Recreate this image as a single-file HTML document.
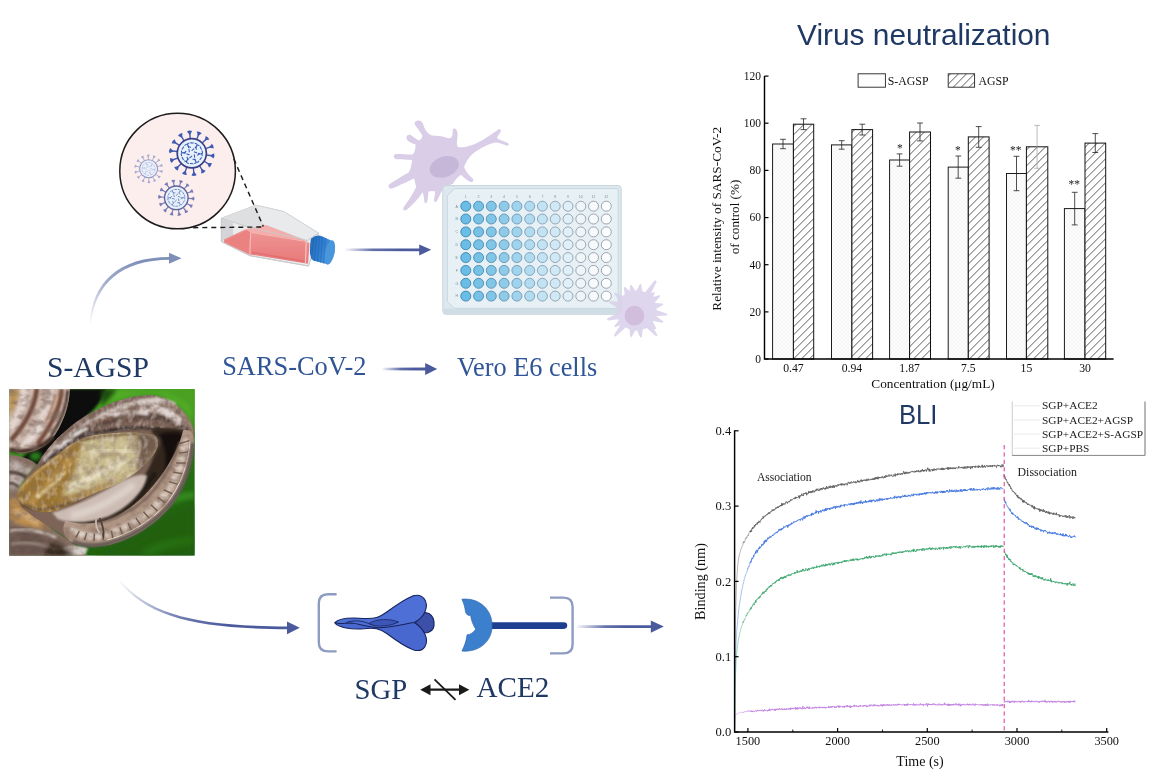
<!DOCTYPE html>
<html lang="en"><head><meta charset="utf-8"><title>Graphical abstract</title>
<style>
html,body{margin:0;padding:0;background:#fff;}
body{width:1171px;height:774px;overflow:hidden;font-family:"Liberation Serif",serif;}
svg{display:block;}
</style></head><body>
<svg width="1171" height="774" viewBox="0 0 1171 774">
<rect width="1171" height="774" fill="#ffffff"/>
<defs>
<clipPath id="phc"><rect x="0" y="0" width="862" height="774"/></clipPath>
<filter id="b2" x="-20%" y="-20%" width="140%" height="140%"><feGaussianBlur stdDeviation="2.5"/></filter>
<filter id="b4" x="-20%" y="-20%" width="140%" height="140%"><feGaussianBlur stdDeviation="5"/></filter>
<filter id="b8" x="-20%" y="-20%" width="140%" height="140%"><feGaussianBlur stdDeviation="9"/></filter>
<filter id="b14" x="-30%" y="-30%" width="160%" height="160%"><feGaussianBlur stdDeviation="16"/></filter>
<filter id="tex" x="0" y="0" width="100%" height="100%">
<feTurbulence type="fractalNoise" baseFrequency="0.02 0.028" numOctaves="3" seed="4" result="n"/>
<feColorMatrix in="n" type="matrix" values="0 0 0 0 0.20  0 0 0 0 0.13  0 0 0 0 0.10  2.8 0 0 0 -1.15"/>
<feComposite in2="SourceGraphic" operator="in"/>
</filter>
<filter id="texl" x="0" y="0" width="100%" height="100%">
<feTurbulence type="fractalNoise" baseFrequency="0.04 0.028" numOctaves="2" seed="19" result="n"/>
<feColorMatrix in="n" type="matrix" values="0 0 0 0 0.96  0 0 0 0 0.91  0 0 0 0 0.89  0 3.4 0 0 -1.55"/>
<feComposite in2="SourceGraphic" operator="in"/>
</filter>
<linearGradient id="gbg" x1="0.3" y1="0" x2="0.8" y2="1"><stop offset="0" stop-color="#46a024"/><stop offset="0.35" stop-color="#30801a"/><stop offset="1" stop-color="#1d5a0f"/></linearGradient>
<linearGradient id="gflesh" x1="0" y1="0.4" x2="1" y2="0"><stop offset="0" stop-color="#9c7430"/><stop offset="0.42" stop-color="#b39458"/><stop offset="0.6" stop-color="#cbbd8e"/><stop offset="0.88" stop-color="#c6b994"/><stop offset="1" stop-color="#846a54"/></linearGradient>
</defs>
<svg x="9.1" y="388.9" width="185.7" height="166.8" viewBox="0 0 862 774" preserveAspectRatio="none">
<g clip-path="url(#phc)">
<rect x="0" y="0" width="862" height="774" fill="url(#gbg)"/>
<path d="M430 0 H862 V210 C840 130 780 60 690 32 C600 20 500 50 410 100 Z" fill="#52ae26" filter="url(#b14)"/>
<path d="M740 0 H862 V120 C830 70 790 40 740 24 Z" fill="#4aa024" filter="url(#b8)"/>
<path d="M838 180 H862 V480 C860 380 856 280 838 180 Z" fill="#2a6c17" filter="url(#b8)"/>
<path d="M700 520 C750 492 810 478 862 476 V508 C806 514 754 530 706 556 Z" fill="#3b9222" opacity="0.8" filter="url(#b8)"/>
<path d="M360 774 C480 740 620 690 730 580 L862 540 V774 Z" fill="#20600f" filter="url(#b14)"/>
<path d="M640 740 C700 706 770 690 862 686 V716 C780 722 716 740 660 774 H600 Z" fill="#2c7b18" opacity="0.7" filter="url(#b14)"/>
<path d="M200 0 H452 C430 70 360 130 290 186 C240 230 190 290 150 360 L60 320 C150 250 200 150 200 0 Z" fill="#0b0f08" filter="url(#b4)"/>
<path d="M430 0 H500 C476 36 452 62 424 84 Z" fill="#1c4c11" filter="url(#b8)"/>
<ellipse cx="122" cy="312" rx="28" ry="22" fill="#2b7e1c" filter="url(#b8)"/>
<path d="M0 0 H282 C280 70 258 140 214 212 C180 262 130 296 50 300 L0 284 Z" fill="#cdb8ae" filter="url(#b2)"/>
<path d="M0 0 H46 C44 40 26 90 0 130 Z" fill="#b8904e" filter="url(#b8)"/>
<g filter="url(#b4)" fill="none" stroke-linecap="round">
<path d="M70 10 C66 70 44 130 10 178" stroke="#e2d4cd" stroke-width="32"/>
<path d="M128 6 C118 80 78 160 14 232" stroke="#70483a" stroke-width="22"/>
<path d="M188 4 C186 76 150 160 84 250" stroke="#e0d3cd" stroke-width="34"/>
<path d="M244 10 C236 90 196 170 136 250" stroke="#744a38" stroke-width="20"/>
<path d="M10 282 C70 300 140 282 200 226" stroke="#452e26" stroke-width="20"/>
<path d="M272 10 C268 80 240 150 200 210" stroke="#37251e" stroke-width="12"/>
<path d="M214 30 C206 70 190 110 170 150" stroke="#a87656" stroke-width="10"/>
<path d="M150 180 C130 210 100 240 60 262" stroke="#e8dcd6" stroke-width="14"/>
</g>
<path d="M0 306 C50 310 104 326 128 352 C84 392 48 432 40 480 C60 560 180 640 280 704 C310 730 340 754 360 774 H0 Z" fill="#876f63" filter="url(#b2)"/>
<path d="M0 330 C46 336 90 354 108 376 C76 404 52 432 42 470 L0 470 Z" fill="#c3b9b6" filter="url(#b8)"/>
<path d="M0 386 C36 388 68 400 86 414" stroke="#45352f" stroke-width="16" fill="none" filter="url(#b4)"/>
<path d="M0 436 C20 438 36 446 46 458" stroke="#4e3e38" stroke-width="12" fill="none" filter="url(#b4)"/>
<path d="M0 506 C30 506 54 524 84 556 C124 596 168 626 196 648 C130 652 60 640 0 606 Z" fill="#bf8e4e" filter="url(#b8)"/>
<path d="M20 566 C56 576 100 598 136 626" stroke="#e2c8a6" stroke-width="18" fill="none" opacity="0.75" filter="url(#b8)"/>
<path d="M0 636 C70 648 160 668 240 706 C262 724 282 748 296 774 H0 Z" fill="#66534b" filter="url(#b8)"/>
<path d="M4 660 C70 646 150 660 218 690" stroke="#cfc6c2" stroke-width="12" fill="none" filter="url(#b4)"/>
<path d="M10 720 C80 706 150 718 210 744" stroke="#93837c" stroke-width="16" fill="none" filter="url(#b4)"/>
<path d="M250 738 C290 724 330 724 366 738 L352 774 H262 Z" fill="#d4cdc8" filter="url(#b4)"/>
<path d="M190 716 C240 728 280 748 306 774 H160 Z" fill="#33271f" filter="url(#b8)"/>
<path d="M132 350 C180 262 260 186 350 128 C440 74 540 32 650 28 C740 30 830 96 856 196 C862 300 836 420 760 530 C690 620 590 690 470 722 C400 736 330 734 282 706 C230 660 130 612 62 552 C24 510 40 440 132 350 Z" fill="#7e6458"/>
<g filter="url(#b4)" fill="none" stroke-linecap="round">
<path d="M170 330 C250 232 370 150 510 90 C590 56 680 40 760 72" stroke="#d0c4be" stroke-width="26"/>
<path d="M300 214 C400 158 520 126 640 128 C710 130 770 150 820 190" stroke="#5a463f" stroke-width="30"/>
<path d="M156 356 C220 286 300 232 380 204" stroke="#43343a" stroke-width="20"/>
<path d="M620 92 C680 82 750 104 790 150" stroke="#ddd0ce" stroke-width="34"/>
<path d="M460 132 C510 112 580 104 640 114" stroke="#d9cdca" stroke-width="18"/>
<path d="M740 70 C800 96 836 146 850 200" stroke="#9c8474" stroke-width="18"/>
<path d="M236 268 C276 232 316 204 360 182" stroke="#e0d8d3" stroke-width="14"/>
<path d="M400 204 C500 182 600 176 700 186" stroke="#2f2625" stroke-width="14"/>
<path d="M360 172 C400 150 440 138 480 132" stroke="#7a5a4c" stroke-width="18"/>
<path d="M520 150 C580 140 640 146 690 160" stroke="#6a4e44" stroke-width="16"/>
</g>
<path d="M132 350 C180 262 260 186 350 128 C440 74 540 32 650 28 C740 30 830 96 856 196 C862 300 836 420 760 530 C690 620 590 690 470 722 C400 736 330 734 282 706 C230 660 130 612 62 552 C24 510 40 440 132 350 Z" fill="#000" filter="url(#tex)" opacity="0.85"/>
<path d="M0 0 H282 C280 70 258 140 214 212 C180 262 130 296 50 300 L0 284 Z M0 306 C50 310 104 326 128 352 C84 392 48 432 40 480 C60 560 180 640 280 704 C310 730 340 754 360 774 H0 Z" fill="#000" filter="url(#tex)" opacity="0.6"/>
<path d="M132 350 C180 262 260 186 350 128 C440 74 540 32 650 28 C740 30 830 96 856 196 L800 190 C720 176 600 180 500 198 C420 208 340 226 300 250 C240 286 190 326 152 366 Z" fill="#fff" filter="url(#texl)" opacity="0.32"/>
<path d="M660 190 C720 176 780 180 812 192 C800 290 740 400 660 480 C600 546 500 604 400 628 C350 634 300 622 262 608 C360 600 480 546 580 460 C650 390 700 290 660 190 Z" fill="#30251f" filter="url(#b4)"/>
<path d="M690 214 C740 198 780 200 804 210 C790 280 760 340 720 392 C736 326 728 262 690 214 Z" fill="#120e0d" filter="url(#b4)"/>
<path d="M676 392 C640 456 590 508 530 548" stroke="#1b1513" stroke-width="16" fill="none" filter="url(#b4)"/>
<path d="M808 192 C836 186 858 196 858 240 C852 350 820 450 756 536 C690 620 590 690 470 722 C400 736 330 734 282 706 C250 680 244 646 262 612 C320 632 400 630 480 600 C570 560 650 480 716 388 C760 322 794 254 808 192 Z" fill="#b09685" filter="url(#b2)"/>
<g filter="url(#b4)" fill="none" stroke-linecap="round">
<path d="M822 236 C812 340 770 440 700 524 C628 600 530 654 420 680" stroke="#cdbbae" stroke-width="26"/>
<path d="M790 250 C766 340 710 430 640 506 C572 566 490 606 400 626" stroke="#6a564c" stroke-width="9"/>
<path d="M290 650 C324 676 378 688 432 680" stroke="#d4c8bf" stroke-width="22"/>
</g>
<g stroke="#e6d8ce" stroke-width="15" stroke-linecap="round" opacity="0.75" filter="url(#b4)">
<path d="M821 269 L797 274"/>
<path d="M813 319 L789 321"/>
<path d="M799 368 L775 366"/>
<path d="M781 415 L758 410"/>
<path d="M757 460 L736 451"/>
<path d="M729 501 L709 489"/>
<path d="M696 539 L679 525"/>
<path d="M661 574 L645 558"/>
<path d="M623 606 L610 589"/>
<path d="M583 633 L573 615"/>
<path d="M543 656 L535 637"/>
<path d="M501 674 L496 655"/>
<path d="M458 687 L455 668"/>
<path d="M416 694 L415 675"/>
<path d="M374 694 L377 675"/>
<path d="M334 686 L341 669"/>
</g>
<g stroke="#5a463c" stroke-width="6.5" opacity="0.8" filter="url(#b2)">
<path d="M836 240 L792 254"/>
<path d="M832 292 L788 298"/>
<path d="M820 344 L776 344"/>
<path d="M804 394 L762 386"/>
<path d="M782 442 L742 430"/>
<path d="M756 486 L718 468"/>
<path d="M724 528 L690 504"/>
<path d="M688 566 L658 538"/>
<path d="M650 600 L624 570"/>
<path d="M610 630 L588 598"/>
<path d="M568 656 L552 622"/>
<path d="M526 676 L514 642"/>
<path d="M482 692 L474 658"/>
<path d="M438 702 L434 668"/>
<path d="M394 706 L396 672"/>
<path d="M350 702 L360 668"/>
<path d="M310 690 L326 660"/>
</g>
<path d="M852 250 C846 356 808 462 738 548 C664 628 566 690 456 718 C400 730 340 728 296 708" stroke="#605753" stroke-width="18" fill="none" filter="url(#b4)"/>
<path d="M840 246 C832 350 796 452 728 536 C656 614 560 674 452 702" stroke="#f4ece6" stroke-width="4.5" fill="none" opacity="0.85" filter="url(#b2)"/>
<path d="M808 192 C836 186 858 196 858 240 C852 350 820 450 756 536 C690 620 590 690 470 722 C400 736 330 734 282 706 C250 680 244 646 262 612 C320 632 400 630 480 600 C570 560 650 480 716 388 C760 322 794 254 808 192 Z" fill="#000" filter="url(#tex)" opacity="0.5"/>
<path d="M200 574 C290 552 400 500 520 430 C570 404 620 392 640 402 C632 470 560 548 460 592 C380 622 290 628 226 604 Z" fill="#cbbbb2" filter="url(#b4)"/>
<path d="M300 586 C390 566 480 520 570 452" stroke="#ddd2cb" stroke-width="34" fill="none" stroke-linecap="round" filter="url(#b8)"/>
<path d="M420 600 C432 626 442 660 438 690" stroke="#4e3e38" stroke-width="8" fill="none" filter="url(#b2)"/>
<path d="M404 604 C400 630 410 654 420 668" stroke="#c8bcb4" stroke-width="8" fill="none" filter="url(#b2)"/>
<path d="M40 476 C70 424 140 368 230 306 C270 262 320 232 390 216 C470 204 580 194 670 212 C706 232 696 284 650 330 C600 390 520 440 420 474 C340 506 270 548 200 570 C140 580 80 556 48 520 C36 506 34 490 40 476 Z" fill="url(#gflesh)" filter="url(#b2)"/>
<path d="M46 480 C78 426 150 370 238 308 C280 268 312 250 340 246 C332 330 286 430 200 540 C160 566 100 556 70 530 C52 512 44 496 46 480 Z" fill="#9c7430" filter="url(#b8)"/>
<path d="M100 520 C150 486 220 410 282 326" stroke="#b89048" stroke-width="34" fill="none" stroke-linecap="round" filter="url(#b8)"/>
<path d="M130 500 C176 470 222 430 258 388" stroke="#e6d4a0" stroke-width="14" fill="none" stroke-linecap="round" opacity="0.85" filter="url(#b4)"/>
<path d="M340 240 C430 220 540 210 630 224 C650 256 620 304 576 346 C516 398 430 442 340 476 C296 492 262 498 244 488 C294 424 328 330 340 240 Z" fill="#c9bc8e" filter="url(#b8)"/>
<path d="M392 292 C450 278 530 282 590 294" stroke="#ddd3ae" stroke-width="30" fill="none" stroke-linecap="round" filter="url(#b8)"/>
<path d="M300 452 C376 418 460 376 540 330" stroke="#ebe3c8" stroke-width="24" fill="none" stroke-linecap="round" filter="url(#b8)"/>
<path d="M590 206 C640 206 680 216 700 232 C694 284 650 340 596 386 C586 350 610 290 590 206 Z" fill="#705a4a" filter="url(#b8)"/>
<path d="M600 240 C620 270 600 320 570 360" stroke="#d6ccc0" stroke-width="10" fill="none" opacity="0.7" filter="url(#b4)"/>
<path d="M330 240 C410 220 500 210 600 208" stroke="#6a4c2a" stroke-width="10" fill="none" filter="url(#b4)"/>
<path d="M60 536 C130 580 230 552 330 512" stroke="#5c401d" stroke-width="10" fill="none" filter="url(#b4)"/>
<path d="M50 468 C90 414 156 362 232 308" stroke="#dcbc7c" stroke-width="8" fill="none" opacity="0.85" filter="url(#b4)"/>
<path d="M40 476 C70 424 140 368 230 306 C270 262 320 232 390 216 C470 204 580 194 670 212 C706 232 696 284 650 330 C600 390 520 440 420 474 C340 506 270 548 200 570 C140 580 80 556 48 520 C36 506 34 490 40 476 Z" fill="#3a2408" filter="url(#tex)" opacity="0.45"/>
<path d="M40 476 C70 424 140 368 230 306 C270 262 320 232 390 216 C470 204 580 194 670 212 C706 232 696 284 650 330 C600 390 520 440 420 474 C340 506 270 548 200 570 C140 580 80 556 48 520 C36 506 34 490 40 476 Z" fill="#fff" filter="url(#texl)" opacity="0.3"/>
</g></svg>
<g transform="translate(380 110) scale(0.14213)">
<path d="M262 76 C282 70 300 82 305 104 C312 134 330 160 360 178 C395 184 430 180 468 196 C492 204 506 196 510 172 C512 150 508 136 520 130 C536 126 548 150 546 178 C544 212 536 236 548 262 C600 266 660 246 720 212 C770 184 806 158 832 138 C846 130 856 142 848 154 C838 170 826 186 822 198 C850 212 880 222 900 232 C912 240 904 254 890 250 C862 240 836 228 812 228 C770 236 716 262 668 296 C628 326 606 362 592 402 C606 436 630 462 652 482 C664 494 654 510 638 506 C612 498 594 476 570 456 C548 470 530 492 512 520 L450 540 L400 640 C392 652 378 648 380 632 C384 610 388 590 388 572 C372 572 354 572 342 574 C338 600 338 626 332 648 C328 660 312 658 312 644 C310 620 308 598 300 578 C286 600 250 650 186 704 C172 714 156 700 166 684 C200 640 232 590 254 542 C250 520 244 500 240 482 C200 500 140 530 86 552 C66 558 52 538 66 522 C110 494 160 462 202 440 C218 414 224 380 226 352 C196 346 150 350 116 346 C94 342 90 316 110 310 C150 306 196 318 232 312 C246 290 252 262 250 242 C230 234 206 226 192 212 C180 196 188 172 208 172 C226 176 240 200 276 214 C292 206 300 192 298 178 C282 150 258 124 244 100 C240 88 248 78 262 76 Z" fill="#d9cde8"/>
<ellipse cx="452" cy="400" rx="106" ry="72" transform="rotate(-20 452 400)" fill="#c6b7d9"/>
</g>
<rect x="442.8" y="185.5" width="178.4" height="128.8" rx="3" fill="#dde8ee" stroke="#c8d6de" stroke-width="1"/>
<rect x="443.6" y="308.6" width="176.8" height="5.2" rx="2" fill="#cfdde5"/>
<path d="M454.5 188.6 H616.4 Q618.2 188.6 618.2 190.4 V306.6 Q618.2 308.4 616.4 308.4 H454.5 L447.4 301.6 V195.6 Z" fill="#e7f0f5" stroke="#c5d5de" stroke-width="0.9"/>
<circle cx="465.8" cy="206.2" r="5" fill="#6abde6" stroke="#3a7fa8" stroke-width="0.85"/>
<circle cx="465.8" cy="219.0" r="5" fill="#6abde6" stroke="#3a7fa8" stroke-width="0.85"/>
<circle cx="465.8" cy="231.9" r="5" fill="#6abde6" stroke="#3a7fa8" stroke-width="0.85"/>
<circle cx="465.8" cy="244.7" r="5" fill="#6abde6" stroke="#3a7fa8" stroke-width="0.85"/>
<circle cx="465.8" cy="257.6" r="5" fill="#6abde6" stroke="#3a7fa8" stroke-width="0.85"/>
<circle cx="465.8" cy="270.4" r="5" fill="#6abde6" stroke="#3a7fa8" stroke-width="0.85"/>
<circle cx="465.8" cy="283.3" r="5" fill="#6abde6" stroke="#3a7fa8" stroke-width="0.85"/>
<circle cx="465.8" cy="296.1" r="5" fill="#6abde6" stroke="#3a7fa8" stroke-width="0.85"/>
<text x="465.8" y="198.2" text-anchor="middle" font-size="3.6" font-family="Liberation Sans, sans-serif" fill="#7890a0">1</text>
<circle cx="478.6" cy="206.2" r="5" fill="#76c2e7" stroke="#4585ac" stroke-width="0.85"/>
<circle cx="478.6" cy="219.0" r="5" fill="#76c2e7" stroke="#4585ac" stroke-width="0.85"/>
<circle cx="478.6" cy="231.9" r="5" fill="#76c2e7" stroke="#4585ac" stroke-width="0.85"/>
<circle cx="478.6" cy="244.7" r="5" fill="#76c2e7" stroke="#4585ac" stroke-width="0.85"/>
<circle cx="478.6" cy="257.6" r="5" fill="#76c2e7" stroke="#4585ac" stroke-width="0.85"/>
<circle cx="478.6" cy="270.4" r="5" fill="#76c2e7" stroke="#4585ac" stroke-width="0.85"/>
<circle cx="478.6" cy="283.3" r="5" fill="#76c2e7" stroke="#4585ac" stroke-width="0.85"/>
<circle cx="478.6" cy="296.1" r="5" fill="#76c2e7" stroke="#4585ac" stroke-width="0.85"/>
<text x="478.6" y="198.2" text-anchor="middle" font-size="3.6" font-family="Liberation Sans, sans-serif" fill="#7890a0">2</text>
<circle cx="491.3" cy="206.2" r="5" fill="#81c5e7" stroke="#528bae" stroke-width="0.85"/>
<circle cx="491.3" cy="219.0" r="5" fill="#81c5e7" stroke="#528bae" stroke-width="0.85"/>
<circle cx="491.3" cy="231.9" r="5" fill="#81c5e7" stroke="#528bae" stroke-width="0.85"/>
<circle cx="491.3" cy="244.7" r="5" fill="#81c5e7" stroke="#528bae" stroke-width="0.85"/>
<circle cx="491.3" cy="257.6" r="5" fill="#81c5e7" stroke="#528bae" stroke-width="0.85"/>
<circle cx="491.3" cy="270.4" r="5" fill="#81c5e7" stroke="#528bae" stroke-width="0.85"/>
<circle cx="491.3" cy="283.3" r="5" fill="#81c5e7" stroke="#528bae" stroke-width="0.85"/>
<circle cx="491.3" cy="296.1" r="5" fill="#81c5e7" stroke="#528bae" stroke-width="0.85"/>
<text x="491.3" y="198.2" text-anchor="middle" font-size="3.6" font-family="Liberation Sans, sans-serif" fill="#7890a0">3</text>
<circle cx="504.1" cy="206.2" r="5" fill="#8fcbe9" stroke="#5f90b0" stroke-width="0.85"/>
<circle cx="504.1" cy="219.0" r="5" fill="#8fcbe9" stroke="#5f90b0" stroke-width="0.85"/>
<circle cx="504.1" cy="231.9" r="5" fill="#8fcbe9" stroke="#5f90b0" stroke-width="0.85"/>
<circle cx="504.1" cy="244.7" r="5" fill="#8fcbe9" stroke="#5f90b0" stroke-width="0.85"/>
<circle cx="504.1" cy="257.6" r="5" fill="#8fcbe9" stroke="#5f90b0" stroke-width="0.85"/>
<circle cx="504.1" cy="270.4" r="5" fill="#8fcbe9" stroke="#5f90b0" stroke-width="0.85"/>
<circle cx="504.1" cy="283.3" r="5" fill="#8fcbe9" stroke="#5f90b0" stroke-width="0.85"/>
<circle cx="504.1" cy="296.1" r="5" fill="#8fcbe9" stroke="#5f90b0" stroke-width="0.85"/>
<text x="504.1" y="198.2" text-anchor="middle" font-size="3.6" font-family="Liberation Sans, sans-serif" fill="#7890a0">4</text>
<circle cx="516.9" cy="206.2" r="5" fill="#a0d3ed" stroke="#6c95b0" stroke-width="0.85"/>
<circle cx="516.9" cy="219.0" r="5" fill="#a0d3ed" stroke="#6c95b0" stroke-width="0.85"/>
<circle cx="516.9" cy="231.9" r="5" fill="#a0d3ed" stroke="#6c95b0" stroke-width="0.85"/>
<circle cx="516.9" cy="244.7" r="5" fill="#a0d3ed" stroke="#6c95b0" stroke-width="0.85"/>
<circle cx="516.9" cy="257.6" r="5" fill="#a0d3ed" stroke="#6c95b0" stroke-width="0.85"/>
<circle cx="516.9" cy="270.4" r="5" fill="#a0d3ed" stroke="#6c95b0" stroke-width="0.85"/>
<circle cx="516.9" cy="283.3" r="5" fill="#a0d3ed" stroke="#6c95b0" stroke-width="0.85"/>
<circle cx="516.9" cy="296.1" r="5" fill="#a0d3ed" stroke="#6c95b0" stroke-width="0.85"/>
<text x="516.9" y="198.2" text-anchor="middle" font-size="3.6" font-family="Liberation Sans, sans-serif" fill="#7890a0">5</text>
<circle cx="529.7" cy="206.2" r="5" fill="#b1dbf0" stroke="#7899b0" stroke-width="0.85"/>
<circle cx="529.7" cy="219.0" r="5" fill="#b1dbf0" stroke="#7899b0" stroke-width="0.85"/>
<circle cx="529.7" cy="231.9" r="5" fill="#b1dbf0" stroke="#7899b0" stroke-width="0.85"/>
<circle cx="529.7" cy="244.7" r="5" fill="#b1dbf0" stroke="#7899b0" stroke-width="0.85"/>
<circle cx="529.7" cy="257.6" r="5" fill="#b1dbf0" stroke="#7899b0" stroke-width="0.85"/>
<circle cx="529.7" cy="270.4" r="5" fill="#b1dbf0" stroke="#7899b0" stroke-width="0.85"/>
<circle cx="529.7" cy="283.3" r="5" fill="#b1dbf0" stroke="#7899b0" stroke-width="0.85"/>
<circle cx="529.7" cy="296.1" r="5" fill="#b1dbf0" stroke="#7899b0" stroke-width="0.85"/>
<text x="529.7" y="198.2" text-anchor="middle" font-size="3.6" font-family="Liberation Sans, sans-serif" fill="#7890a0">6</text>
<circle cx="542.4" cy="206.2" r="5" fill="#c1e3f3" stroke="#8199ae" stroke-width="0.85"/>
<circle cx="542.4" cy="219.0" r="5" fill="#c1e3f3" stroke="#8199ae" stroke-width="0.85"/>
<circle cx="542.4" cy="231.9" r="5" fill="#c1e3f3" stroke="#8199ae" stroke-width="0.85"/>
<circle cx="542.4" cy="244.7" r="5" fill="#c1e3f3" stroke="#8199ae" stroke-width="0.85"/>
<circle cx="542.4" cy="257.6" r="5" fill="#c1e3f3" stroke="#8199ae" stroke-width="0.85"/>
<circle cx="542.4" cy="270.4" r="5" fill="#c1e3f3" stroke="#8199ae" stroke-width="0.85"/>
<circle cx="542.4" cy="283.3" r="5" fill="#c1e3f3" stroke="#8199ae" stroke-width="0.85"/>
<circle cx="542.4" cy="296.1" r="5" fill="#c1e3f3" stroke="#8199ae" stroke-width="0.85"/>
<text x="542.4" y="198.2" text-anchor="middle" font-size="3.6" font-family="Liberation Sans, sans-serif" fill="#7890a0">7</text>
<circle cx="555.2" cy="206.2" r="5" fill="#d0e9f5" stroke="#889aaa" stroke-width="0.85"/>
<circle cx="555.2" cy="219.0" r="5" fill="#d0e9f5" stroke="#889aaa" stroke-width="0.85"/>
<circle cx="555.2" cy="231.9" r="5" fill="#d0e9f5" stroke="#889aaa" stroke-width="0.85"/>
<circle cx="555.2" cy="244.7" r="5" fill="#d0e9f5" stroke="#889aaa" stroke-width="0.85"/>
<circle cx="555.2" cy="257.6" r="5" fill="#d0e9f5" stroke="#889aaa" stroke-width="0.85"/>
<circle cx="555.2" cy="270.4" r="5" fill="#d0e9f5" stroke="#889aaa" stroke-width="0.85"/>
<circle cx="555.2" cy="283.3" r="5" fill="#d0e9f5" stroke="#889aaa" stroke-width="0.85"/>
<circle cx="555.2" cy="296.1" r="5" fill="#d0e9f5" stroke="#889aaa" stroke-width="0.85"/>
<text x="555.2" y="198.2" text-anchor="middle" font-size="3.6" font-family="Liberation Sans, sans-serif" fill="#7890a0">8</text>
<circle cx="568.0" cy="206.2" r="5" fill="#dff0f8" stroke="#8c9aa6" stroke-width="0.85"/>
<circle cx="568.0" cy="219.0" r="5" fill="#dff0f8" stroke="#8c9aa6" stroke-width="0.85"/>
<circle cx="568.0" cy="231.9" r="5" fill="#dff0f8" stroke="#8c9aa6" stroke-width="0.85"/>
<circle cx="568.0" cy="244.7" r="5" fill="#dff0f8" stroke="#8c9aa6" stroke-width="0.85"/>
<circle cx="568.0" cy="257.6" r="5" fill="#dff0f8" stroke="#8c9aa6" stroke-width="0.85"/>
<circle cx="568.0" cy="270.4" r="5" fill="#dff0f8" stroke="#8c9aa6" stroke-width="0.85"/>
<circle cx="568.0" cy="283.3" r="5" fill="#dff0f8" stroke="#8c9aa6" stroke-width="0.85"/>
<circle cx="568.0" cy="296.1" r="5" fill="#dff0f8" stroke="#8c9aa6" stroke-width="0.85"/>
<text x="568.0" y="198.2" text-anchor="middle" font-size="3.6" font-family="Liberation Sans, sans-serif" fill="#7890a0">9</text>
<circle cx="580.8" cy="206.2" r="5" fill="#eef6fa" stroke="#8e99a2" stroke-width="0.85"/>
<circle cx="580.8" cy="219.0" r="5" fill="#eef6fa" stroke="#8e99a2" stroke-width="0.85"/>
<circle cx="580.8" cy="231.9" r="5" fill="#eef6fa" stroke="#8e99a2" stroke-width="0.85"/>
<circle cx="580.8" cy="244.7" r="5" fill="#eef6fa" stroke="#8e99a2" stroke-width="0.85"/>
<circle cx="580.8" cy="257.6" r="5" fill="#eef6fa" stroke="#8e99a2" stroke-width="0.85"/>
<circle cx="580.8" cy="270.4" r="5" fill="#eef6fa" stroke="#8e99a2" stroke-width="0.85"/>
<circle cx="580.8" cy="283.3" r="5" fill="#eef6fa" stroke="#8e99a2" stroke-width="0.85"/>
<circle cx="580.8" cy="296.1" r="5" fill="#eef6fa" stroke="#8e99a2" stroke-width="0.85"/>
<text x="580.8" y="198.2" text-anchor="middle" font-size="3.6" font-family="Liberation Sans, sans-serif" fill="#7890a0">10</text>
<circle cx="593.5" cy="206.2" r="5" fill="#f6fafc" stroke="#90989f" stroke-width="0.85"/>
<circle cx="593.5" cy="219.0" r="5" fill="#f6fafc" stroke="#90989f" stroke-width="0.85"/>
<circle cx="593.5" cy="231.9" r="5" fill="#f6fafc" stroke="#90989f" stroke-width="0.85"/>
<circle cx="593.5" cy="244.7" r="5" fill="#f6fafc" stroke="#90989f" stroke-width="0.85"/>
<circle cx="593.5" cy="257.6" r="5" fill="#f6fafc" stroke="#90989f" stroke-width="0.85"/>
<circle cx="593.5" cy="270.4" r="5" fill="#f6fafc" stroke="#90989f" stroke-width="0.85"/>
<circle cx="593.5" cy="283.3" r="5" fill="#f6fafc" stroke="#90989f" stroke-width="0.85"/>
<circle cx="593.5" cy="296.1" r="5" fill="#f6fafc" stroke="#90989f" stroke-width="0.85"/>
<text x="593.5" y="198.2" text-anchor="middle" font-size="3.6" font-family="Liberation Sans, sans-serif" fill="#7890a0">11</text>
<circle cx="606.3" cy="206.2" r="5" fill="#fbfdfe" stroke="#91979d" stroke-width="0.85"/>
<circle cx="606.3" cy="219.0" r="5" fill="#fbfdfe" stroke="#91979d" stroke-width="0.85"/>
<circle cx="606.3" cy="231.9" r="5" fill="#fbfdfe" stroke="#91979d" stroke-width="0.85"/>
<circle cx="606.3" cy="244.7" r="5" fill="#fbfdfe" stroke="#91979d" stroke-width="0.85"/>
<circle cx="606.3" cy="257.6" r="5" fill="#fbfdfe" stroke="#91979d" stroke-width="0.85"/>
<circle cx="606.3" cy="270.4" r="5" fill="#fbfdfe" stroke="#91979d" stroke-width="0.85"/>
<circle cx="606.3" cy="283.3" r="5" fill="#fbfdfe" stroke="#91979d" stroke-width="0.85"/>
<circle cx="606.3" cy="296.1" r="5" fill="#fbfdfe" stroke="#91979d" stroke-width="0.85"/>
<text x="606.3" y="198.2" text-anchor="middle" font-size="3.6" font-family="Liberation Sans, sans-serif" fill="#7890a0">12</text>
<text x="456.8" y="207.5" text-anchor="middle" font-size="3.6" font-family="Liberation Sans, sans-serif" fill="#7890a0">A</text>
<text x="456.8" y="220.3" text-anchor="middle" font-size="3.6" font-family="Liberation Sans, sans-serif" fill="#7890a0">B</text>
<text x="456.8" y="233.2" text-anchor="middle" font-size="3.6" font-family="Liberation Sans, sans-serif" fill="#7890a0">C</text>
<text x="456.8" y="246.0" text-anchor="middle" font-size="3.6" font-family="Liberation Sans, sans-serif" fill="#7890a0">D</text>
<text x="456.8" y="258.9" text-anchor="middle" font-size="3.6" font-family="Liberation Sans, sans-serif" fill="#7890a0">E</text>
<text x="456.8" y="271.7" text-anchor="middle" font-size="3.6" font-family="Liberation Sans, sans-serif" fill="#7890a0">F</text>
<text x="456.8" y="284.6" text-anchor="middle" font-size="3.6" font-family="Liberation Sans, sans-serif" fill="#7890a0">G</text>
<text x="456.8" y="297.4" text-anchor="middle" font-size="3.6" font-family="Liberation Sans, sans-serif" fill="#7890a0">H</text>
<g transform="translate(590 265) scale(0.10333)">
<path d="M257 408 L187 367 Q172 353 192 349 L273 356 Q282 351 281 341 L237 283 Q229 265 248 269 L315 298 Q329 294 336 281 L327 223 Q326 203 343 215 L384 255 Q385 261 382 256 L388 202 Q393 182 406 198 L435 245 Q444 250 453 244 L480 189 Q491 172 497 191 L506 252 Q518 263 534 263 L624 151 Q644 143 645 165 L579 293 Q569 292 567 282 L612 264 Q631 256 624 275 L606 321 Q598 321 600 313 L667 293 Q687 291 676 308 L629 360 Q625 366 632 368 L698 372 Q718 376 702 389 L645 422 Q640 430 646 439 L741 469 Q758 481 739 489 L639 493 Q633 492 639 494 L704 543 Q717 558 697 559 L616 543 Q608 545 610 554 L638 607 Q646 626 627 619 L572 593 Q579 580 593 575 L652 676 Q655 696 636 688 L550 609 Q528 613 509 627 L502 694 Q496 713 484 697 L456 636 Q446 630 437 636 L406 692 Q393 708 388 688 L383 624 Q366 610 344 605 L250 690 Q230 696 233 675 L303 569 Q311 570 311 578 L248 601 Q229 605 238 587 L278 534 Q281 527 273 524 L178 538 Q157 532 171 516 L257 472 Q260 440 257 408 Z" fill="#d9d0ea" opacity="0.88"/>
<circle cx="430" cy="490" r="95" fill="#cfbbda" opacity="0.92"/>
</g>
<circle cx="177.6" cy="171" r="57.8" fill="#fdeeee" stroke="#1c1c1c" stroke-width="1.5"/>
<g opacity="1.0">
<path d="M206.30 155.05 L211.99 155.73" stroke="#3f5ab0" stroke-width="1.36"/>
<path d="M209.75 155.46 L213.48 158.53 Q215.13 156.11 214.10 153.37 Z" fill="#3f5ab0"/>
<path d="M204.10 161.16 L208.94 164.26" stroke="#3f5ab0" stroke-width="1.36"/>
<path d="M207.03 163.04 L209.06 167.42 Q211.60 165.96 211.86 163.04 Z" fill="#3f5ab0"/>
<path d="M199.47 165.72 L202.49 170.61" stroke="#3f5ab0" stroke-width="1.36"/>
<path d="M201.30 168.68 L201.23 173.51 Q204.15 173.30 205.65 170.78 Z" fill="#3f5ab0"/>
<path d="M193.32 167.82 L193.92 173.53" stroke="#3f5ab0" stroke-width="1.36"/>
<path d="M193.68 171.28 L191.52 175.60 Q194.25 176.68 196.69 175.06 Z" fill="#3f5ab0"/>
<path d="M186.87 167.04 L184.93 172.45" stroke="#3f5ab0" stroke-width="1.36"/>
<path d="M185.70 170.32 L181.88 173.27 Q183.86 175.42 186.77 175.02 Z" fill="#3f5ab0"/>
<path d="M181.40 163.54 L177.31 167.57" stroke="#3f5ab0" stroke-width="1.36"/>
<path d="M178.92 165.98 L174.19 166.99 Q175.05 169.79 177.84 170.69 Z" fill="#3f5ab0"/>
<path d="M177.98 158.01 L172.55 159.87" stroke="#3f5ab0" stroke-width="1.36"/>
<path d="M174.69 159.14 L170.00 157.99 Q169.56 160.89 171.68 162.91 Z" fill="#3f5ab0"/>
<path d="M177.30 151.55 L171.61 150.87" stroke="#3f5ab0" stroke-width="1.36"/>
<path d="M173.85 151.14 L170.12 148.07 Q168.47 150.49 169.50 153.23 Z" fill="#3f5ab0"/>
<path d="M179.50 145.44 L174.66 142.34" stroke="#3f5ab0" stroke-width="1.36"/>
<path d="M176.57 143.56 L174.54 139.18 Q172.00 140.64 171.74 143.56 Z" fill="#3f5ab0"/>
<path d="M184.13 140.88 L181.11 135.99" stroke="#3f5ab0" stroke-width="1.36"/>
<path d="M182.30 137.92 L182.37 133.09 Q179.45 133.30 177.95 135.82 Z" fill="#3f5ab0"/>
<path d="M190.28 138.78 L189.68 133.07" stroke="#3f5ab0" stroke-width="1.36"/>
<path d="M189.92 135.32 L192.08 131.00 Q189.35 129.92 186.91 131.54 Z" fill="#3f5ab0"/>
<path d="M196.73 139.56 L198.67 134.15" stroke="#3f5ab0" stroke-width="1.36"/>
<path d="M197.90 136.28 L201.72 133.33 Q199.74 131.18 196.83 131.58 Z" fill="#3f5ab0"/>
<path d="M202.20 143.06 L206.29 139.03" stroke="#3f5ab0" stroke-width="1.36"/>
<path d="M204.68 140.62 L209.41 139.61 Q208.55 136.81 205.76 135.91 Z" fill="#3f5ab0"/>
<path d="M205.62 148.59 L211.05 146.73" stroke="#3f5ab0" stroke-width="1.36"/>
<path d="M208.91 147.46 L213.60 148.61 Q214.04 145.71 211.92 143.69 Z" fill="#3f5ab0"/>
<circle cx="191.8" cy="153.3" r="14.6" fill="#e6f1fb" stroke="#3b3f86" stroke-width="1.7"/>
<path d="M194.20 154.37 C195.33 161.63 195.91 166.55 201.40 157.59 C204.17 152.31 198.35 152.77 197.40 155.80" fill="none" stroke="#3556b4" stroke-width="1.05" stroke-dasharray="3.21 1.02"/>
<path d="M192.07 155.91 C186.35 160.53 182.38 163.48 192.89 163.76 C198.84 163.52 195.53 158.71 192.43 159.40" fill="none" stroke="#3556b4" stroke-width="1.05" stroke-dasharray="3.21 1.02"/>
<path d="M189.67 154.84 C182.82 152.19 178.27 150.24 183.29 159.47 C186.47 164.51 188.98 159.23 186.84 156.90" fill="none" stroke="#3556b4" stroke-width="1.05" stroke-dasharray="3.21 1.02"/>
<path d="M189.40 152.23 C188.27 144.97 187.69 140.05 182.20 149.01 C179.43 154.29 185.25 153.83 186.20 150.80" fill="none" stroke="#3556b4" stroke-width="1.05" stroke-dasharray="3.21 1.02"/>
<path d="M191.53 150.69 C197.25 146.07 201.22 143.12 190.71 142.84 C184.76 143.08 188.07 147.89 191.17 147.20" fill="none" stroke="#3556b4" stroke-width="1.05" stroke-dasharray="3.21 1.02"/>
<path d="M193.93 151.76 C200.78 154.41 205.33 156.36 200.31 147.13 C197.13 142.09 194.62 147.37 196.76 149.70" fill="none" stroke="#3556b4" stroke-width="1.05" stroke-dasharray="3.21 1.02"/>
</g>
<g opacity="0.95">
<path d="M188.09 198.39 L192.48 198.61" stroke="#6f78b4" stroke-width="1.12"/>
<path d="M190.68 198.52 L193.81 200.75 Q195.00 198.74 194.02 196.61 Z" fill="#6f78b4"/>
<path d="M186.66 203.44 L190.53 205.55" stroke="#6f78b4" stroke-width="1.12"/>
<path d="M188.95 204.69 L190.80 208.06 Q192.74 206.76 192.78 204.42 Z" fill="#6f78b4"/>
<path d="M183.19 207.38 L185.75 210.95" stroke="#6f78b4" stroke-width="1.12"/>
<path d="M184.70 209.49 L184.91 213.33 Q187.23 213.00 188.28 210.92 Z" fill="#6f78b4"/>
<path d="M178.35 209.42 L179.11 213.75" stroke="#6f78b4" stroke-width="1.12"/>
<path d="M178.80 211.98 L177.32 215.53 Q179.55 216.24 181.40 214.81 Z" fill="#6f78b4"/>
<path d="M173.10 209.16 L171.91 213.39" stroke="#6f78b4" stroke-width="1.12"/>
<path d="M172.40 211.66 L169.53 214.22 Q171.23 215.82 173.51 215.34 Z" fill="#6f78b4"/>
<path d="M168.49 206.65 L165.58 209.95" stroke="#6f78b4" stroke-width="1.12"/>
<path d="M166.77 208.60 L163.07 209.65 Q163.91 211.83 166.18 212.39 Z" fill="#6f78b4"/>
<path d="M165.43 202.38 L161.37 204.09" stroke="#6f78b4" stroke-width="1.12"/>
<path d="M163.03 203.39 L159.24 202.74 Q159.05 205.07 160.85 206.56 Z" fill="#6f78b4"/>
<path d="M164.51 197.21 L160.12 196.99" stroke="#6f78b4" stroke-width="1.12"/>
<path d="M161.92 197.08 L158.79 194.85 Q157.60 196.86 158.58 198.99 Z" fill="#6f78b4"/>
<path d="M165.94 192.16 L162.07 190.05" stroke="#6f78b4" stroke-width="1.12"/>
<path d="M163.65 190.91 L161.80 187.54 Q159.86 188.84 159.82 191.18 Z" fill="#6f78b4"/>
<path d="M169.41 188.22 L166.85 184.65" stroke="#6f78b4" stroke-width="1.12"/>
<path d="M167.90 186.11 L167.69 182.27 Q165.37 182.60 164.32 184.68 Z" fill="#6f78b4"/>
<path d="M174.25 186.18 L173.49 181.85" stroke="#6f78b4" stroke-width="1.12"/>
<path d="M173.80 183.62 L175.28 180.07 Q173.05 179.36 171.20 180.79 Z" fill="#6f78b4"/>
<path d="M179.50 186.44 L180.69 182.21" stroke="#6f78b4" stroke-width="1.12"/>
<path d="M180.20 183.94 L183.07 181.38 Q181.37 179.78 179.09 180.26 Z" fill="#6f78b4"/>
<path d="M184.11 188.95 L187.02 185.65" stroke="#6f78b4" stroke-width="1.12"/>
<path d="M185.83 187.00 L189.53 185.95 Q188.69 183.77 186.42 183.21 Z" fill="#6f78b4"/>
<path d="M187.17 193.22 L191.23 191.51" stroke="#6f78b4" stroke-width="1.12"/>
<path d="M189.57 192.21 L193.36 192.86 Q193.55 190.53 191.75 189.04 Z" fill="#6f78b4"/>
<circle cx="176.3" cy="197.8" r="11.8" fill="#e6f1fb" stroke="#585c96" stroke-width="1.4"/>
<path d="M178.30 198.53 C179.62 204.32 180.36 208.25 184.28 200.71 C186.22 196.30 181.55 197.01 180.96 199.50" fill="none" stroke="#5d78c0" stroke-width="0.87" stroke-dasharray="2.60 0.83"/>
<path d="M176.67 199.89 C172.31 203.93 169.28 206.54 177.77 206.17 C182.56 205.64 179.61 201.95 177.16 202.68" fill="none" stroke="#5d78c0" stroke-width="0.87" stroke-dasharray="2.60 0.83"/>
<path d="M174.67 199.16 C168.99 197.41 165.22 196.09 169.79 203.26 C172.64 207.14 174.36 202.74 172.50 200.98" fill="none" stroke="#5d78c0" stroke-width="0.87" stroke-dasharray="2.60 0.83"/>
<path d="M174.30 197.07 C172.98 191.28 172.24 187.35 168.32 194.89 C166.38 199.30 171.05 198.59 171.64 196.10" fill="none" stroke="#5d78c0" stroke-width="0.87" stroke-dasharray="2.60 0.83"/>
<path d="M175.93 195.71 C180.29 191.67 183.32 189.06 174.83 189.43 C170.04 189.96 172.99 193.65 175.44 192.92" fill="none" stroke="#5d78c0" stroke-width="0.87" stroke-dasharray="2.60 0.83"/>
<path d="M177.93 196.44 C183.61 198.19 187.38 199.51 182.81 192.34 C179.96 188.46 178.24 192.86 180.10 194.62" fill="none" stroke="#5d78c0" stroke-width="0.87" stroke-dasharray="2.60 0.83"/>
</g>
<g opacity="0.95">
<path d="M157.42 170.59 L161.13 171.34" stroke="#a3a8cf" stroke-width="0.88"/>
<path d="M159.73 171.06 L161.91 173.17 Q163.07 171.73 162.56 169.96 Z" fill="#a3a8cf"/>
<path d="M155.77 174.24 L158.78 176.52" stroke="#a3a8cf" stroke-width="0.88"/>
<path d="M157.65 175.66 L158.70 178.51 Q160.37 177.72 160.68 175.91 Z" fill="#a3a8cf"/>
<path d="M152.70 176.81 L154.42 180.18" stroke="#a3a8cf" stroke-width="0.88"/>
<path d="M153.78 178.91 L153.49 181.93 Q155.33 181.95 156.40 180.44 Z" fill="#a3a8cf"/>
<path d="M148.82 177.80 L148.91 181.58" stroke="#a3a8cf" stroke-width="0.88"/>
<path d="M148.88 180.16 L147.31 182.75 Q148.96 183.56 150.57 182.67 Z" fill="#a3a8cf"/>
<path d="M144.89 177.00 L143.34 180.45" stroke="#a3a8cf" stroke-width="0.88"/>
<path d="M143.92 179.15 L141.38 180.81 Q142.52 182.26 144.36 182.15 Z" fill="#a3a8cf"/>
<path d="M141.70 174.58 L138.81 177.01" stroke="#a3a8cf" stroke-width="0.88"/>
<path d="M139.89 176.10 L136.89 176.49 Q137.28 178.29 138.98 178.99 Z" fill="#a3a8cf"/>
<path d="M139.88 171.02 L136.21 171.95" stroke="#a3a8cf" stroke-width="0.88"/>
<path d="M137.59 171.60 L134.71 170.64 Q134.29 172.44 135.51 173.81 Z" fill="#a3a8cf"/>
<path d="M139.78 167.01 L136.07 166.26" stroke="#a3a8cf" stroke-width="0.88"/>
<path d="M137.47 166.54 L135.29 164.43 Q134.13 165.87 134.64 167.64 Z" fill="#a3a8cf"/>
<path d="M141.43 163.36 L138.42 161.08" stroke="#a3a8cf" stroke-width="0.88"/>
<path d="M139.55 161.94 L138.50 159.09 Q136.83 159.88 136.52 161.69 Z" fill="#a3a8cf"/>
<path d="M144.50 160.79 L142.78 157.42" stroke="#a3a8cf" stroke-width="0.88"/>
<path d="M143.42 158.69 L143.71 155.67 Q141.87 155.65 140.80 157.16 Z" fill="#a3a8cf"/>
<path d="M148.38 159.80 L148.29 156.02" stroke="#a3a8cf" stroke-width="0.88"/>
<path d="M148.32 157.44 L149.89 154.85 Q148.24 154.04 146.63 154.93 Z" fill="#a3a8cf"/>
<path d="M152.31 160.60 L153.86 157.15" stroke="#a3a8cf" stroke-width="0.88"/>
<path d="M153.28 158.45 L155.82 156.79 Q154.68 155.34 152.84 155.45 Z" fill="#a3a8cf"/>
<path d="M155.50 163.02 L158.39 160.59" stroke="#a3a8cf" stroke-width="0.88"/>
<path d="M157.31 161.50 L160.31 161.11 Q159.92 159.31 158.22 158.61 Z" fill="#a3a8cf"/>
<path d="M157.32 166.58 L160.99 165.65" stroke="#a3a8cf" stroke-width="0.88"/>
<path d="M159.61 166.00 L162.49 166.96 Q162.91 165.16 161.69 163.79 Z" fill="#a3a8cf"/>
<circle cx="148.6" cy="168.8" r="9.0" fill="#ecf2fb" stroke="#9094c0" stroke-width="1.1"/>
<path d="M150.02 169.58 C150.36 174.10 150.47 177.14 154.29 171.91 C156.25 168.80 152.65 168.80 151.92 170.61" fill="none" stroke="#9fb0dc" stroke-width="0.68" stroke-dasharray="1.98 0.63"/>
<path d="M148.64 170.42 C144.89 172.97 142.31 174.59 148.75 175.28 C152.42 175.43 150.62 172.31 148.69 172.58" fill="none" stroke="#9fb0dc" stroke-width="0.68" stroke-dasharray="1.98 0.63"/>
<path d="M147.22 169.64 C143.13 167.68 140.44 166.25 143.07 172.17 C144.78 175.43 146.57 172.31 145.37 170.77" fill="none" stroke="#9fb0dc" stroke-width="0.68" stroke-dasharray="1.98 0.63"/>
<path d="M147.18 168.02 C146.84 163.50 146.73 160.46 142.91 165.69 C140.95 168.80 144.55 168.80 145.28 166.99" fill="none" stroke="#9fb0dc" stroke-width="0.68" stroke-dasharray="1.98 0.63"/>
<path d="M148.56 167.18 C152.31 164.63 154.89 163.01 148.45 162.32 C144.77 162.17 146.57 165.29 148.51 165.02" fill="none" stroke="#9fb0dc" stroke-width="0.68" stroke-dasharray="1.98 0.63"/>
<path d="M149.98 167.96 C154.07 169.92 156.76 171.35 154.13 165.43 C152.42 162.17 150.62 165.29 151.83 166.83" fill="none" stroke="#9fb0dc" stroke-width="0.68" stroke-dasharray="1.98 0.63"/>
</g>
<defs>
<linearGradient id="capg" x1="0" y1="0" x2="1" y2="0.35"><stop offset="0" stop-color="#2368b8"/><stop offset="0.55" stop-color="#2f7fd0"/><stop offset="1" stop-color="#4f9be0"/></linearGradient>
<linearGradient id="liq" x1="0" y1="0" x2="0" y2="1"><stop offset="0" stop-color="#f09a9a"/><stop offset="1" stop-color="#e87878"/></linearGradient>
</defs>
<path d="M221.4 218.3 L256 205.2 L284.1 211.7 L318.6 233.2 L316.5 241 L308.5 266 L249.5 255.6 L221.4 241.6 Z" fill="#ececed" stroke="#c2c4c6" stroke-width="1"/>
<path d="M221.4 218.3 L256 205.2 L284.1 211.7 L318.6 233.2 L307 240.5 L268 226 L250 227 Z" fill="#e9eaeb" stroke="#d3d5d7" stroke-width="0.7"/>
<path d="M256 205.2 L264 226 L250 227.5 L221.4 218.3 Z" fill="#dcdddf" opacity="0.85"/>
<path d="M221.4 218.3 L221.4 241.6 L233 236 L233 223 Z" fill="#cfd0d3" opacity="0.8"/>
<path d="M223.8 239.5 L245.5 229.3 L266 225.2 L305 240.6 L309.5 243.5 L308 263.8 L249.6 254.4 L224 242.8 Z" fill="url(#liq)"/>
<path d="M245.5 229.3 L266 225.2 L305 240.6 L250.5 232.2 Z" fill="#f4b0ae" opacity="0.9"/>
<path d="M224 241 L246 230.5 L250.5 232.2 L249.6 254.4 Z" fill="#ea8282" />
<path d="M250.6 232.4 L249.8 254" stroke="#f7c0bd" stroke-width="1.1"/>
<path d="M250.6 232.4 L306 241.4" stroke="#f6bcb9" stroke-width="0.9"/>
<path d="M252 252.4 L306.5 261.6" stroke="#e06a6a" stroke-width="1.6" opacity="0.7"/>
<path d="M306.2 242 L305.4 263" stroke="#f6c4c2" stroke-width="1.2"/>
<path d="M221.4 218.3 L250 227.6 L307.5 240.6 L318.6 233.2 M221.4 218.3 V241.6 L249.5 255.6 L308.5 266" fill="none" stroke="#c9cbcd" stroke-width="0.9"/>
<path d="M311.2 238.4 Q317 233.8 322.5 236.6 L331.2 240.4 Q335.6 244.6 334.6 251.8 Q333.4 260.4 328.2 264.6 L313 260.6 Q309.4 257 310 249 Q310.2 241.6 311.2 238.4 Z" fill="url(#capg)"/>
<ellipse cx="329.8" cy="252.4" rx="4.7" ry="12.4" transform="rotate(12 329.8 252.4)" fill="#4a96dc"/>
<path d="M313.5 238 L311.5 259.5 M316.5 236.6 L314.5 261 M319.5 236 L317.5 262 M322.5 236.8 L320.5 262.8 M325.5 238 L323.5 263.6" stroke="#1d5aa4" stroke-width="0.7" opacity="0.55" fill="none"/>
<path d="M233.8 158.9 L263.3 226.5 M193.3 227.7 L263.3 227" stroke="#1c1c1c" stroke-width="1.4" stroke-dasharray="5 4" fill="none"/>
<path d="M336.6 594.2 H328 Q318.8 594.2 318.8 603.4 V642.2 Q318.8 651.4 328 651.4 H336.6" fill="none" stroke="#8d9cc0" stroke-width="2.4"/>
<path d="M550 597.6 H563.4 Q572.6 597.6 572.6 606.8 V644.2 Q572.6 653.4 563.4 653.4 H550" fill="none" stroke="#8d9cc0" stroke-width="2.4"/>
<g transform="translate(300 580) scale(0.25621)" stroke="#17235c" stroke-width="4.2" stroke-linejoin="round">
<path d="M452 150 C470 118 516 118 523 162 C528 206 486 222 452 186 Z" fill="#3c4fa9"/>
<path d="M136 168 C150 186 200 194 250 190 C290 186 310 188 340 210 C380 240 410 262 444 273 C484 284 504 250 488 212 C478 190 462 176 446 166 C380 156 300 158 240 160 C200 160 160 160 136 168 Z" fill="#4968cf"/>
<path d="M136 166 C150 150 200 146 250 150 C290 152 312 146 340 124 C380 94 410 74 440 62 C480 50 504 84 488 124 C478 146 462 158 446 166 C400 172 350 188 300 186 C260 184 230 170 200 168 C176 168 150 174 136 166 Z" fill="#4e6fd6"/>
<path d="M180 166 C210 156 240 158 268 170 C300 184 340 178 384 164" fill="none" stroke-width="3.4"/>
<path d="M268 170 C300 150 350 150 384 164 C350 182 300 186 268 170 Z" fill="#3c55b8" stroke-width="3"/>
</g>
<g transform="translate(300 580) scale(0.25621)">
<path d="M750 178 H1030" stroke="#1d3f90" stroke-width="26" stroke-linecap="round"/>
<path d="M632 75 C700 68 750 116 750 178 C750 238 700 284 632 277 C642 258 650 236 652 214 C664 214 678 204 686 192 C676 176 668 158 666 138 C656 140 648 134 646 124 C644 108 640 92 632 75 Z" fill="#3b7fcd" stroke="#2b62ae" stroke-width="2.6" stroke-linejoin="round"/>
</g>
<defs>
<linearGradient id="ga1" gradientUnits="userSpaceOnUse" x1="90" y1="325" x2="140" y2="262"><stop offset="0" stop-color="#7f90b8" stop-opacity="0"/><stop offset="0.55" stop-color="#7f90b8" stop-opacity="0.75"/><stop offset="1" stop-color="#7f90b8"/></linearGradient>
<linearGradient id="ga2" gradientUnits="userSpaceOnUse" x1="344" y1="0" x2="400" y2="0"><stop offset="0" stop-color="#4a5a9c" stop-opacity="0"/><stop offset="0.5" stop-color="#4a5a9c" stop-opacity="0.85"/><stop offset="1" stop-color="#4a5a9c"/></linearGradient>
<linearGradient id="ga3" gradientUnits="userSpaceOnUse" x1="381" y1="0" x2="415" y2="0"><stop offset="0" stop-color="#4a5a9c" stop-opacity="0"/><stop offset="0.6" stop-color="#4a5a9c" stop-opacity="0.9"/><stop offset="1" stop-color="#4a5a9c"/></linearGradient>
<linearGradient id="ga4" gradientUnits="userSpaceOnUse" x1="118" y1="578" x2="230" y2="620"><stop offset="0" stop-color="#4a5a9c" stop-opacity="0"/><stop offset="0.6" stop-color="#4a5a9c" stop-opacity="0.8"/><stop offset="1" stop-color="#4a5a9c"/></linearGradient>
<linearGradient id="ga5" gradientUnits="userSpaceOnUse" x1="575" y1="0" x2="625" y2="0"><stop offset="0" stop-color="#4a5a9c" stop-opacity="0"/><stop offset="0.6" stop-color="#4a5a9c" stop-opacity="0.85"/><stop offset="1" stop-color="#4a5a9c"/></linearGradient>
</defs>
<path d="M89.6 324 C 92.4 282.4, 118 257.0, 170 257.0 L170 259.8 C 121 260.0, 95.0 284, 91.0 324 Z" fill="url(#ga1)"/>
<path d="M169 252.8 L181.6 258.3 L169 263.8 Z" fill="#7f90b8"/>
<path d="M345 248.6 L420 248.4 L420 251.2 L345 251.0 Z" fill="url(#ga2)"/>
<path d="M419.2 244.4 L431.2 249.8 L419.2 255.4 Z" fill="#4a5a9c"/>
<path d="M382.5 367.8 L426 367.6 L426 370.5 L382.5 370.3 Z" fill="url(#ga3)"/>
<path d="M425.2 363 L437.2 369 L425.2 375 Z" fill="#4a5a9c"/>
<path d="M119.5 579.5 C 150 616, 200 626.2, 288 626.4 L288 629.2 C 199 628.6, 148 618.5, 118.5 580.5 Z" fill="url(#ga4)"/>
<path d="M287 621.4 L299.8 627.8 L287 634.2 Z" fill="#4a5a9c"/>
<path d="M577 625.3 L652 625.2 L652 628.0 L577 627.9 Z" fill="url(#ga5)"/>
<path d="M650.8 620.4 L663.8 626.6 L650.8 632.8 Z" fill="#4a5a9c"/>
<path d="M428 689.7 H462" stroke="#1a1a1a" stroke-width="2.2"/>
<path d="M420.2 689.7 L430.5 684.2 L430.5 695.2 Z M469.3 689.7 L459 684.2 L459 695.2 Z" fill="#1a1a1a"/>
<path d="M434.5 679.4 L455.5 699.9" stroke="#1a1a1a" stroke-width="1.8"/>
<text x="797" y="44.8" font-size="29.5" font-family="Liberation Sans, sans-serif" fill="#1f3864" textLength="253.5" lengthAdjust="spacingAndGlyphs">Virus neutralization</text>
<text x="898.9" y="424.2" font-size="28" font-family="Liberation Sans, sans-serif" fill="#1f3864" textLength="38.6" lengthAdjust="spacingAndGlyphs">BLI</text>
<text x="47" y="377.2" font-size="29.6" font-family="Liberation Serif, serif" fill="#1f3864">S-AGSP</text>
<text x="222.2" y="375.2" font-size="26.4" font-family="Liberation Serif, serif" fill="#2f5597">SARS-CoV-2</text>
<text x="457" y="376" font-size="26.3" font-family="Liberation Serif, serif" fill="#2f5597">Vero E6 cells</text>
<text x="354.5" y="699.2" font-size="28.7" font-family="Liberation Serif, serif" fill="#1f3864">SGP</text>
<text x="476.5" y="696.8" font-size="29.1" font-family="Liberation Serif, serif" fill="#1f3864">ACE2</text>
<defs>
<pattern id="hatch" patternUnits="userSpaceOnUse" width="8" height="8" patternTransform="translate(793.4 359)">
<path d="M-1 9 L9 -1 M-1 1 L1 -1 M7 9 L9 7" stroke="#1c1c1c" stroke-width="0.72" fill="none"/>
</pattern>
<pattern id="xh" patternUnits="userSpaceOnUse" width="4" height="4">
<rect width="4" height="4" fill="#fcfcfc"/><path d="M0 4 L4 0 M0 0 L4 4" stroke="#f3f3f3" stroke-width="0.6"/>
</pattern></defs>
<rect x="772.6" y="144.0" width="20.8" height="215.0" fill="url(#xh)" stroke="#111" stroke-width="0.95"/>
<rect x="793.4" y="124.2" width="20.3" height="234.8" fill="#fff" stroke="none"/>
<rect x="793.4" y="124.2" width="20.3" height="234.8" fill="url(#hatch)" stroke="#111" stroke-width="1.0"/>
<rect x="831.5" y="144.9" width="20.4" height="214.1" fill="url(#xh)" stroke="#111" stroke-width="0.95"/>
<rect x="851.9" y="129.6" width="20.7" height="229.4" fill="#fff" stroke="none"/>
<rect x="851.9" y="129.6" width="20.7" height="229.4" fill="url(#hatch)" stroke="#111" stroke-width="1.0"/>
<rect x="889.6" y="160.0" width="20.0" height="199.0" fill="url(#xh)" stroke="#111" stroke-width="0.95"/>
<rect x="909.6" y="132.0" width="20.9" height="227.0" fill="#fff" stroke="none"/>
<rect x="909.6" y="132.0" width="20.9" height="227.0" fill="url(#hatch)" stroke="#111" stroke-width="1.0"/>
<rect x="948.2" y="167.1" width="20.1" height="191.9" fill="url(#xh)" stroke="#111" stroke-width="0.95"/>
<rect x="968.3" y="136.9" width="20.8" height="222.1" fill="#fff" stroke="none"/>
<rect x="968.3" y="136.9" width="20.8" height="222.1" fill="url(#hatch)" stroke="#111" stroke-width="1.0"/>
<rect x="1006.5" y="173.5" width="19.9" height="185.5" fill="url(#xh)" stroke="#111" stroke-width="0.95"/>
<rect x="1026.4" y="146.8" width="21.4" height="212.2" fill="#fff" stroke="none"/>
<rect x="1026.4" y="146.8" width="21.4" height="212.2" fill="url(#hatch)" stroke="#111" stroke-width="1.0"/>
<rect x="1064.4" y="208.6" width="20.6" height="150.4" fill="url(#xh)" stroke="#111" stroke-width="0.95"/>
<rect x="1085.0" y="143.1" width="20.7" height="215.9" fill="#fff" stroke="none"/>
<rect x="1085.0" y="143.1" width="20.7" height="215.9" fill="url(#hatch)" stroke="#111" stroke-width="1.0"/>
<path d="M783.0 139.3 V148.7 M780.1 139.3 h5.8 M780.1 148.7 h5.8" stroke="#222" stroke-width="0.8" fill="none"/>
<path d="M803.5 118.8 V129.6 M800.6 118.8 h5.8 M800.6 129.6 h5.8" stroke="#222" stroke-width="0.8" fill="none"/>
<path d="M841.7 140.7 V149.2 M838.8 140.7 h5.8 M838.8 149.2 h5.8" stroke="#222" stroke-width="0.8" fill="none"/>
<path d="M862.2 124.2 V135.0 M859.4 124.2 h5.8 M859.4 135.0 h5.8" stroke="#222" stroke-width="0.8" fill="none"/>
<path d="M899.6 153.9 V166.2 M896.7 153.9 h5.8 M896.7 166.2 h5.8" stroke="#222" stroke-width="0.8" fill="none"/>
<path d="M920.0 123.0 V140.9 M917.1 123.0 h5.8 M917.1 140.9 h5.8" stroke="#222" stroke-width="0.8" fill="none"/>
<path d="M958.2 156.0 V178.2 M955.4 156.0 h5.8 M955.4 178.2 h5.8" stroke="#222" stroke-width="0.8" fill="none"/>
<path d="M978.7 126.6 V147.3 M975.8 126.6 h5.8 M975.8 147.3 h5.8" stroke="#222" stroke-width="0.8" fill="none"/>
<path d="M1016.5 156.3 V190.7 M1013.6 156.3 h5.8 M1013.6 190.7 h5.8" stroke="#222" stroke-width="0.8" fill="none"/>
<path d="M1037.1 125.4 V168.3 M1034.2 125.4 h5.8 M1034.2 168.3 h5.8" stroke="#aaa" stroke-width="0.8" fill="none"/>
<path d="M1074.7 192.3 V224.9 M1071.8 192.3 h5.8 M1071.8 224.9 h5.8" stroke="#222" stroke-width="0.8" fill="none"/>
<path d="M1095.3 133.6 V152.5 M1092.4 133.6 h5.8 M1092.4 152.5 h5.8" stroke="#222" stroke-width="0.8" fill="none"/>
<path d="M764.5 76 V359.0 H1113.6" stroke="#000" stroke-width="1.45" fill="none"/>
<path d="M764.5 359.0 h4" stroke="#000" stroke-width="1.2"/>
<text x="761" y="362.8" text-anchor="end" font-size="11.5" font-family="Liberation Serif, serif" fill="#111">0</text>
<path d="M764.5 311.9 h4" stroke="#000" stroke-width="1.2"/>
<text x="761" y="315.7" text-anchor="end" font-size="11.5" font-family="Liberation Serif, serif" fill="#111">20</text>
<path d="M764.5 264.7 h4" stroke="#000" stroke-width="1.2"/>
<text x="761" y="268.5" text-anchor="end" font-size="11.5" font-family="Liberation Serif, serif" fill="#111">40</text>
<path d="M764.5 217.6 h4" stroke="#000" stroke-width="1.2"/>
<text x="761" y="221.4" text-anchor="end" font-size="11.5" font-family="Liberation Serif, serif" fill="#111">60</text>
<path d="M764.5 170.4 h4" stroke="#000" stroke-width="1.2"/>
<text x="761" y="174.2" text-anchor="end" font-size="11.5" font-family="Liberation Serif, serif" fill="#111">80</text>
<path d="M764.5 123.2 h4" stroke="#000" stroke-width="1.2"/>
<text x="761" y="127.0" text-anchor="end" font-size="11.5" font-family="Liberation Serif, serif" fill="#111">100</text>
<path d="M764.5 76.1 h4" stroke="#000" stroke-width="1.2"/>
<text x="761" y="79.9" text-anchor="end" font-size="11.5" font-family="Liberation Serif, serif" fill="#111">120</text>
<text x="793.4" y="371.6" text-anchor="middle" font-size="11.7" font-family="Liberation Serif, serif" fill="#111">0.47</text>
<text x="851.9" y="371.6" text-anchor="middle" font-size="11.7" font-family="Liberation Serif, serif" fill="#111">0.94</text>
<text x="909.6" y="371.6" text-anchor="middle" font-size="11.7" font-family="Liberation Serif, serif" fill="#111">1.87</text>
<text x="968.3" y="371.6" text-anchor="middle" font-size="11.7" font-family="Liberation Serif, serif" fill="#111">7.5</text>
<text x="1026.4" y="371.6" text-anchor="middle" font-size="11.7" font-family="Liberation Serif, serif" fill="#111">15</text>
<text x="1085.0" y="371.6" text-anchor="middle" font-size="11.7" font-family="Liberation Serif, serif" fill="#111">30</text>
<text x="933" y="387.8" text-anchor="middle" font-size="13.3" font-family="Liberation Serif, serif" fill="#111">Concentration (μg/mL)</text>
<text transform="translate(721.4 218.8) rotate(-90)" text-anchor="middle" font-size="13.3" font-family="Liberation Serif, serif" fill="#111">Relative intensity of SARS-CoV-2</text>
<text transform="translate(738.8 217) rotate(-90)" text-anchor="middle" font-size="13.2" font-family="Liberation Serif, serif" fill="#111">of control (%)</text>
<text x="899.9" y="151.5" text-anchor="middle" font-size="11.5" font-family="Liberation Serif, serif" fill="#222">*</text>
<text x="957.9" y="154.0" text-anchor="middle" font-size="11.5" font-family="Liberation Serif, serif" fill="#222">*</text>
<text x="1015.8" y="153.5" text-anchor="middle" font-size="11.5" font-family="Liberation Serif, serif" fill="#222">**</text>
<text x="1074.3" y="188.3" text-anchor="middle" font-size="11.5" font-family="Liberation Serif, serif" fill="#222">**</text>
<rect x="858.1" y="73.8" width="27.3" height="13.4" fill="#fdfdfd" stroke="#222" stroke-width="0.9"/>
<text x="887.8" y="84.9" font-size="11.8" font-family="Liberation Serif, serif" fill="#111">S-AGSP</text>
<rect x="948.2" y="73.8" width="26.4" height="13.4" fill="url(#hatch)" stroke="#222" stroke-width="0.9"/>
<text x="978.4" y="84.9" font-size="11.8" font-family="Liberation Serif, serif" fill="#111">AGSP</text>
<polyline points="734.6,732.0 734.9,666.2 735.2,637.9 735.5,619.8 735.8,607.5 736.1,598.6 736.3,590.7 736.6,583.7 736.9,577.6 737.2,572.5 737.5,568.2 737.8,564.9 738.1,562.5 738.4,560.6 738.6,558.9 738.9,557.3 739.2,555.8 739.5,554.5 739.8,553.3 740.1,552.2 740.4,551.2 740.7,550.3 740.9,549.4 741.2,548.6 741.5,547.8 741.8,547.1 742.1,546.3 742.4,545.6 742.7,545.4 742.9,544.4 743.2,543.0 743.5,541.5 743.8,543.1 744.1,542.0 744.4,541.6 744.7,542.1 745.0,540.5 745.2,540.0 745.5,538.1 745.8,538.4 746.1,538.9 746.4,536.9 746.7,537.1 747.0,537.6 747.3,536.4 747.5,535.9 747.8,535.7 748.1,534.7 748.4,535.8 748.7,534.0 749.0,532.8 749.3,532.5 749.6,531.9 749.8,531.5" fill="none" stroke="#5f5f5f" stroke-width="0.54" stroke-linejoin="round" opacity="0.85"/>
<polyline points="749.8,531.5 750.1,530.9 750.4,532.2 750.7,530.5 751.0,532.0 751.3,530.8 751.6,531.3 751.8,528.9 752.1,528.3 752.4,529.0 752.7,527.3 753.0,528.6 753.3,527.7 753.6,527.4 753.9,527.9 754.1,526.5 754.4,525.2 754.7,526.8 755.0,525.2 755.3,525.6 755.6,524.0 755.9,524.5 756.2,524.1 756.4,523.8 756.7,523.8 757.0,524.6 757.3,522.4 757.6,523.9 757.9,522.6 758.2,522.0 758.4,522.7 758.7,521.7 759.0,520.8 759.3,521.3 759.6,521.6 759.9,522.7 760.2,521.1 760.5,520.6 760.7,520.3 761.0,520.3 761.3,519.1 761.6,519.5 761.9,518.9 762.2,518.2 762.5,518.9 762.8,518.3 763.0,516.4 763.3,517.0 763.6,518.2 763.9,517.2 764.2,516.5 764.5,515.8 764.8,516.3 765.1,516.5 765.3,516.4 765.6,515.3 765.9,515.3 766.2,515.6 766.5,515.2 766.8,515.1 767.1,514.1 767.3,514.8 767.6,513.8 767.9,513.3 768.2,513.4 768.5,514.1 768.8,512.4 769.1,513.5 769.4,512.6 769.6,513.2 769.9,513.6 770.2,512.1 770.5,511.8 770.8,511.9 771.1,511.4 771.4,511.9 771.7,511.7 771.9,511.1 772.2,509.5 772.5,510.1 772.8,510.8 773.1,509.9 773.4,510.4 773.7,510.2 773.9,509.1 774.2,509.8 774.5,510.4 774.8,509.7 775.1,508.9 775.4,508.7 775.7,507.7 776.0,508.9 776.2,507.7 776.5,507.7 776.8,507.9 777.1,507.1 777.4,507.2 777.7,507.9 778.0,506.4 778.3,507.8 778.5,506.8 778.8,506.6 779.1,506.2 779.4,506.8 779.7,506.2 780.0,506.1 780.3,505.1 780.6,506.2 780.8,505.5 781.1,505.5 781.4,506.1 781.7,503.2 782.0,504.9 782.3,505.7 782.6,503.6 782.8,505.1 783.1,504.0 783.4,503.5 783.7,504.4 784.0,504.1 784.3,504.0 784.6,503.6 784.9,504.5 785.1,504.1 785.4,503.2 785.7,502.2 786.0,502.4 786.3,501.5 786.6,502.0 786.9,502.7 787.2,502.3 787.4,503.5 787.7,502.6 788.0,502.5 788.3,501.5 788.6,501.1 788.9,501.8 789.2,501.6 789.4,502.2 789.7,501.1 790.0,500.7 790.3,500.4 790.6,501.1 790.9,499.1 791.2,499.5 791.5,500.2 791.7,500.4 792.0,500.1 792.3,499.6 792.6,499.6 792.9,499.2 793.2,498.8 793.5,498.3 793.8,498.3 794.0,499.0 794.3,498.6 794.6,499.0 794.9,499.0 795.2,497.1 795.5,498.6 795.8,496.8 796.1,498.3 796.3,497.7 796.6,497.1 796.9,497.6 797.2,497.3 797.5,497.6 797.8,497.6 798.1,497.3 798.3,497.5 798.6,495.8 798.9,496.9 799.2,495.5 799.5,498.4 799.8,496.4 800.1,495.9 800.4,496.4 800.6,495.3 800.9,495.5 801.2,496.0 801.5,495.4 801.8,493.7 802.1,495.3 802.4,495.2 802.7,495.5 802.9,495.0 803.2,495.9 803.5,495.0 803.8,493.1 804.1,494.0 804.4,494.1 804.7,493.7 804.9,493.1 805.2,493.8 805.5,492.7 805.8,493.3 806.1,493.8 806.4,492.6 806.7,495.3 807.0,494.0 807.2,493.3 807.5,494.0 807.8,493.4 808.1,493.6 808.4,493.5 808.7,491.1 809.0,492.4 809.3,492.8 809.5,491.8 809.8,492.7 810.1,491.8 810.4,492.1 810.7,491.1 811.0,493.1 811.3,491.5 811.6,491.9 811.8,492.6 812.1,491.0 812.4,492.3 812.7,490.5 813.0,491.1 813.3,490.9 813.6,491.2 813.8,490.6 814.1,492.4 814.4,491.0 814.7,491.4 815.0,490.6 815.3,490.8 815.6,490.2 815.9,491.1 816.1,489.2 816.4,488.8 816.7,490.5 817.0,490.2 817.3,490.0 817.6,489.2 817.9,488.7 818.2,490.7 818.4,490.2 818.7,490.5 819.0,490.4 819.3,490.7 819.6,489.3 819.9,490.2 820.2,488.3 820.4,488.7 820.7,489.9 821.0,489.8 821.3,489.5 821.6,488.0 821.9,489.5 822.2,489.8 822.5,488.8 822.7,488.4 823.0,489.0 823.3,487.4 823.6,488.3 823.9,488.1 824.2,488.9 824.5,488.3 824.8,488.3 825.0,489.6 825.3,487.8 825.6,489.2 825.9,487.9 826.2,488.8 826.5,486.4 826.8,487.5 827.1,487.0 827.3,486.9 827.6,488.4 827.9,489.0 828.2,487.6 828.5,486.7 828.8,487.2 829.1,486.6 829.3,486.4 829.6,488.0 829.9,486.8 830.2,485.6 830.5,487.2 830.8,488.1 831.1,486.9 831.4,486.9 831.6,486.3 831.9,487.1 832.2,486.4 832.5,487.9 832.8,485.7 833.1,485.2 833.4,485.3 833.7,487.2 833.9,485.9 834.2,488.0 834.5,485.8 834.8,485.9 835.1,486.5 835.4,485.5 835.7,485.6 835.9,485.0 836.2,485.5 836.5,485.4 836.8,486.8 837.1,486.2 837.4,485.7 837.7,485.1 838.0,485.3 838.2,484.2 838.5,485.7 838.8,485.2 839.1,484.8 839.4,485.1 839.7,484.6 840.0,485.2 840.3,483.8 840.5,485.0 840.8,483.9 841.1,484.7 841.4,483.6 841.7,485.5 842.0,484.1 842.3,484.7 842.6,484.2 842.8,483.5 843.1,485.0 843.4,485.1 843.7,484.8 844.0,483.9 844.3,485.3 844.6,483.9 844.8,484.8 845.1,484.7 845.4,484.1 845.7,483.5 846.0,484.1 846.3,484.0 846.6,483.6 846.9,483.7 847.1,485.3 847.4,483.7 847.7,483.3 848.0,482.6 848.3,481.9 848.6,482.8 848.9,483.1 849.2,483.8 849.4,483.0 849.7,482.5 850.0,482.1 850.3,483.5 850.6,482.7 850.9,482.3 851.2,481.5 851.4,482.6 851.7,483.1 852.0,483.1 852.3,482.8 852.6,483.0 852.9,481.9 853.2,481.7 853.5,481.9 853.7,481.5 854.0,482.6 854.3,482.0 854.6,482.4 854.9,482.1 855.2,481.3 855.5,482.1 855.8,483.2 856.0,482.1 856.3,482.4 856.6,482.9 856.9,482.3 857.2,481.1 857.5,480.5 857.8,482.0 858.1,480.9 858.3,480.7 858.6,482.3 858.9,481.5 859.2,481.4 859.5,481.2 859.8,482.4 860.1,481.5 860.3,480.5 860.6,480.3 860.9,479.8 861.2,481.3 861.5,479.7 861.8,480.5 862.1,481.8 862.4,480.3 862.6,481.0 862.9,480.4 863.2,480.8 863.5,479.8 863.8,480.4 864.1,480.7 864.4,479.8 864.7,480.3 864.9,480.7 865.2,479.5 865.5,480.6 865.8,480.7 866.1,480.5 866.4,481.1 866.7,480.4 866.9,478.8 867.2,480.6 867.5,479.9 867.8,480.6 868.1,480.2 868.4,478.7 868.7,479.1 869.0,480.1 869.2,479.6 869.5,480.1 869.8,480.0 870.1,480.1 870.4,480.0 870.7,479.1 871.0,478.9 871.3,478.9 871.5,479.3 871.8,480.0 872.1,479.1 872.4,479.7 872.7,478.4 873.0,478.5 873.3,478.4 873.6,479.0 873.8,480.0 874.1,478.1 874.4,477.8 874.7,479.6 875.0,478.5 875.3,477.7 875.6,479.2 875.8,477.2 876.1,478.6 876.4,479.0 876.7,477.3 877.0,478.0 877.3,478.6 877.6,477.5 877.9,479.3 878.1,476.7 878.4,478.5 878.7,477.7 879.0,478.1 879.3,477.5 879.6,477.1 879.9,478.2 880.2,477.1 880.4,477.7 880.7,478.0 881.0,477.6 881.3,478.1 881.6,477.9 881.9,476.6 882.2,477.3 882.4,476.4 882.7,476.8 883.0,477.8 883.3,478.3 883.6,477.4 883.9,476.7 884.2,476.8 884.5,477.4 884.7,476.1 885.0,477.9 885.3,477.5 885.6,476.5 885.9,475.0 886.2,476.2 886.5,477.1 886.8,476.0 887.0,475.9 887.3,475.6 887.6,476.5 887.9,476.7 888.2,476.0 888.5,475.8 888.8,474.9 889.1,474.5 889.3,476.4 889.6,476.2 889.9,475.8 890.2,475.9 890.5,475.4 890.8,475.3 891.1,475.4 891.3,474.6 891.6,475.6 891.9,476.2 892.2,476.4 892.5,476.0 892.8,476.0 893.1,476.5 893.4,474.7 893.6,475.0 893.9,475.4 894.2,475.6 894.5,476.1 894.8,475.6 895.1,473.6 895.4,476.3 895.7,474.7 895.9,474.2 896.2,474.6 896.5,474.8 896.8,474.1 897.1,475.3 897.4,474.1 897.7,473.5 898.0,475.1 898.2,474.9 898.5,474.2 898.8,473.6 899.1,473.3 899.4,473.7 899.7,474.5 900.0,474.8 900.2,473.8 900.5,473.7 900.8,474.6 901.1,473.8 901.4,473.6 901.7,473.0 902.0,474.4 902.3,473.3 902.5,474.4 902.8,473.9 903.1,473.6 903.4,472.4 903.7,471.2 904.0,473.2 904.3,473.0 904.6,472.6 904.8,474.2 905.1,472.7 905.4,474.0 905.7,472.0 906.0,472.1 906.3,472.7 906.6,473.5 906.8,471.8 907.1,472.7 907.4,472.8 907.7,472.4 908.0,473.9 908.3,472.4 908.6,472.0 908.9,472.4 909.1,472.5 909.4,473.2 909.7,472.0 910.0,472.3 910.3,472.4 910.6,472.7 910.9,471.7 911.2,471.4 911.4,472.0 911.7,471.6 912.0,471.2 912.3,471.0 912.6,471.9 912.9,472.2 913.2,472.2 913.5,471.9 913.7,471.5 914.0,471.2 914.3,472.1 914.6,471.7 914.9,472.4 915.2,470.8 915.5,471.9 915.7,471.4 916.0,472.1 916.3,471.7 916.6,472.0 916.9,470.3 917.2,471.2 917.5,471.5 917.8,472.0 918.0,471.7 918.3,470.9 918.6,470.1 918.9,472.2 919.2,471.8 919.5,471.2 919.8,471.5 920.1,472.2 920.3,471.0 920.6,470.5 920.9,472.0 921.2,470.8 921.5,470.2 921.8,470.2 922.1,471.1 922.3,469.2 922.6,470.4 922.9,471.2 923.2,470.0 923.5,471.4 923.8,470.0 924.1,471.4 924.4,470.0 924.6,470.9 924.9,469.7 925.2,469.9 925.5,470.1 925.8,470.3 926.1,469.6 926.4,471.5 926.7,470.0 926.9,470.0 927.2,469.8 927.5,469.6 927.8,467.7 928.1,470.1 928.4,469.6 928.7,470.0 929.0,469.0 929.2,471.4 929.5,468.8 929.8,470.4 930.1,471.5 930.4,470.7 930.7,470.0 931.0,469.7 931.2,469.9 931.5,469.3 931.8,469.8 932.1,469.8 932.4,471.2 932.7,469.4 933.0,469.0 933.3,469.9 933.5,470.9 933.8,470.5 934.1,468.5 934.4,470.0 934.7,470.0 935.0,470.1 935.3,469.0 935.6,469.9 935.8,470.0 936.1,470.4 936.4,469.5 936.7,468.7 937.0,469.4 937.3,468.7 937.6,469.2 937.8,469.2 938.1,469.1 938.4,469.2 938.7,468.5 939.0,468.8 939.3,469.5 939.6,469.0 939.9,469.2 940.1,468.7 940.4,468.9 940.7,468.7 941.0,470.0 941.3,468.7 941.6,468.1 941.9,469.9 942.2,467.8 942.4,468.7 942.7,469.0 943.0,470.1 943.3,468.1 943.6,469.5 943.9,469.1 944.2,468.4 944.5,469.4 944.7,469.4 945.0,469.5 945.3,468.7 945.6,468.2 945.9,468.4 946.2,468.3 946.5,468.8 946.7,468.5 947.0,469.0 947.3,467.2 947.6,468.4 947.9,469.8 948.2,469.2 948.5,467.3 948.8,469.3 949.0,468.7 949.3,468.1 949.6,469.1 949.9,467.6 950.2,467.2 950.5,468.9 950.8,467.5 951.1,468.9 951.3,468.9 951.6,468.0 951.9,468.0 952.2,468.6 952.5,467.6 952.8,469.1 953.1,468.7 953.3,468.8 953.6,467.6 953.9,467.5 954.2,467.6 954.5,468.9 954.8,467.9 955.1,467.7 955.4,469.1 955.6,468.5 955.9,467.5 956.2,467.4 956.5,467.7 956.8,467.5 957.1,467.6 957.4,467.7 957.7,467.9 957.9,468.4 958.2,467.9 958.5,468.0 958.8,466.2 959.1,467.5 959.4,467.7 959.7,467.8 960.0,467.7 960.2,467.8 960.5,467.3 960.8,467.6 961.1,467.0 961.4,468.0 961.7,467.3 962.0,466.9 962.2,468.3 962.5,467.4 962.8,467.3 963.1,467.7 963.4,467.8 963.7,468.7 964.0,466.6 964.3,468.0 964.5,468.2 964.8,466.9 965.1,468.6 965.4,466.7 965.7,467.0 966.0,466.9 966.3,467.4 966.6,468.1 966.8,468.5 967.1,466.3 967.4,467.6 967.7,467.6 968.0,466.1 968.3,467.6 968.6,467.3 968.8,467.3 969.1,467.2 969.4,467.8 969.7,467.5 970.0,466.2 970.3,466.6 970.6,469.1 970.9,468.4 971.1,466.8 971.4,467.1 971.7,467.3 972.0,466.3 972.3,468.2 972.6,466.2 972.9,466.9 973.2,466.6 973.4,466.7 973.7,466.3 974.0,467.1 974.3,467.2 974.6,466.3 974.9,466.7 975.2,467.7 975.5,465.9 975.7,466.0 976.0,465.8 976.3,466.7 976.6,466.5 976.9,467.0 977.2,467.4 977.5,466.7 977.7,466.6 978.0,467.2 978.3,465.5 978.6,467.8 978.9,467.2 979.2,467.1 979.5,465.8 979.8,466.8 980.0,466.8 980.3,467.2 980.6,467.1 980.9,467.5 981.2,465.9 981.5,466.1 981.8,465.9 982.1,467.0 982.3,464.8 982.6,467.2 982.9,467.9 983.2,466.7 983.5,466.4 983.8,465.9 984.1,467.1 984.3,466.0 984.6,465.3 984.9,467.0 985.2,466.9 985.5,467.5 985.8,466.2 986.1,465.8 986.4,465.8 986.6,465.8 986.9,465.4 987.2,466.2 987.5,465.7 987.8,466.9 988.1,466.8 988.4,466.1 988.7,466.8 988.9,465.9 989.2,465.3 989.5,466.0 989.8,466.7 990.1,466.7 990.4,465.3 990.7,466.7 991.0,466.1 991.2,466.4 991.5,466.1 991.8,465.4 992.1,466.5 992.4,467.1 992.7,465.1 993.0,466.0 993.2,465.6 993.5,466.1 993.8,465.6 994.1,465.2 994.4,465.1 994.7,466.2 995.0,466.3 995.3,465.8 995.5,465.9 995.8,465.6 996.1,466.5 996.4,467.6 996.7,465.7 997.0,465.5 997.3,465.5 997.6,464.8 997.8,465.4 998.1,466.2 998.4,465.3 998.7,466.0 999.0,465.1 999.3,465.8 999.6,465.6 999.8,465.8 1000.1,465.9 1000.4,466.9 1000.7,465.8 1001.0,467.4 1001.3,465.5 1001.6,465.2 1001.9,464.5 1002.1,465.6 1002.4,466.3 1002.7,466.9 1003.0,464.5 1003.3,466.8" fill="none" stroke="#5f5f5f" stroke-width="0.9" stroke-linejoin="round"/>
<polyline points="1003.9,473.9 1004.2,476.7 1004.5,475.9 1004.8,476.1 1005.1,477.0 1005.3,478.0 1005.6,479.2 1005.9,479.9 1006.2,479.2 1006.5,480.2 1006.8,481.2 1007.1,481.6 1007.3,482.9 1007.6,482.1 1007.9,482.5 1008.2,484.3 1008.5,484.2 1008.8,484.1 1009.1,485.7 1009.4,484.3 1009.6,485.1 1009.9,486.8 1010.2,486.4 1010.5,486.4 1010.8,488.8 1011.1,487.9 1011.4,488.9 1011.7,489.3 1011.9,489.1 1012.2,490.3 1012.5,491.3 1012.8,491.7 1013.1,491.1 1013.4,491.1 1013.7,491.9 1014.0,492.3 1014.2,492.6 1014.5,492.0 1014.8,492.9 1015.1,494.1 1015.4,494.1 1015.7,493.4 1016.0,494.9 1016.2,495.1 1016.5,495.1 1016.8,496.1 1017.1,495.1 1017.4,497.4 1017.7,495.2 1018.0,496.8 1018.3,497.6 1018.5,496.8 1018.8,498.4 1019.1,497.2 1019.4,497.3 1019.7,498.4 1020.0,498.6 1020.3,497.9 1020.6,499.3 1020.8,499.0 1021.1,499.1 1021.4,498.5 1021.7,500.1 1022.0,500.0 1022.3,499.5 1022.6,502.2 1022.8,500.9 1023.1,502.2 1023.4,502.4 1023.7,500.0 1024.0,501.4 1024.3,500.8 1024.6,502.2 1024.9,501.8 1025.1,502.7 1025.4,503.0 1025.7,502.8 1026.0,502.9 1026.3,502.1 1026.6,503.5 1026.9,503.3 1027.2,503.9 1027.4,503.8 1027.7,505.0 1028.0,503.5 1028.3,504.8 1028.6,504.6 1028.9,504.9 1029.2,504.3 1029.5,504.8 1029.7,505.3 1030.0,505.3 1030.3,505.3 1030.6,505.2 1030.9,505.5 1031.2,505.1 1031.5,505.1 1031.7,505.9 1032.0,507.3 1032.3,505.4 1032.6,505.2 1032.9,507.1 1033.2,507.2 1033.5,508.5 1033.8,506.7 1034.0,508.0 1034.3,506.2 1034.6,509.3 1034.9,507.7 1035.2,507.4 1035.5,508.3 1035.8,508.6 1036.1,508.1 1036.3,508.7 1036.6,508.7 1036.9,508.6 1037.2,509.1 1037.5,509.0 1037.8,508.4 1038.1,509.3 1038.3,509.0 1038.6,509.8 1038.9,508.7 1039.2,510.3 1039.5,508.9 1039.8,511.7 1040.1,510.4 1040.4,511.0 1040.6,509.3 1040.9,509.9 1041.2,511.1 1041.5,510.7 1041.8,509.5 1042.1,510.6 1042.4,510.2 1042.7,511.7 1042.9,511.8 1043.2,510.5 1043.5,509.4 1043.8,511.5 1044.1,510.8 1044.4,511.9 1044.7,510.5 1045.0,511.8 1045.2,511.9 1045.5,512.9 1045.8,512.0 1046.1,511.7 1046.4,511.0 1046.7,512.8 1047.0,511.4 1047.2,512.4 1047.5,512.4 1047.8,513.0 1048.1,513.6 1048.4,513.3 1048.7,511.5 1049.0,513.5 1049.3,513.0 1049.5,512.1 1049.8,514.3 1050.1,512.7 1050.4,513.4 1050.7,513.0 1051.0,512.6 1051.3,513.4 1051.6,513.5 1051.8,512.9 1052.1,513.1 1052.4,514.0 1052.7,513.8 1053.0,514.6 1053.3,512.9 1053.6,514.7 1053.8,513.8 1054.1,512.8 1054.4,513.5 1054.7,514.3 1055.0,514.7 1055.3,514.7 1055.6,513.7 1055.9,514.1 1056.1,514.4 1056.4,512.7 1056.7,515.1 1057.0,515.0 1057.3,514.9 1057.6,514.6 1057.9,514.6 1058.2,515.1 1058.4,514.4 1058.7,514.6 1059.0,515.3 1059.3,516.8 1059.6,514.7 1059.9,515.9 1060.2,515.8 1060.5,515.5 1060.7,516.3 1061.0,516.1 1061.3,515.5 1061.6,515.9 1061.9,515.5 1062.2,516.3 1062.5,516.0 1062.7,516.6 1063.0,516.1 1063.3,515.8 1063.6,516.2 1063.9,517.1 1064.2,516.3 1064.5,516.1 1064.8,515.5 1065.0,516.4 1065.3,516.7 1065.6,517.2 1065.9,515.1 1066.2,517.2 1066.5,517.3 1066.8,516.7 1067.1,517.9 1067.3,516.0 1067.6,516.7 1067.9,516.5 1068.2,517.5 1068.5,517.3 1068.8,516.4 1069.1,516.4 1069.3,515.1 1069.6,516.3 1069.9,518.4 1070.2,517.1 1070.5,517.5 1070.8,516.5 1071.1,517.4 1071.4,517.0 1071.6,517.6 1071.9,517.0 1072.2,516.5 1072.5,517.9 1072.8,518.9 1073.1,518.2 1073.4,516.5 1073.7,517.5 1073.9,517.8 1074.2,518.3 1074.5,517.0 1074.8,517.5 1075.1,517.8 1075.4,518.2" fill="none" stroke="#5f5f5f" stroke-width="0.9" stroke-linejoin="round"/>
<polyline points="734.6,732.0 734.9,698.8 735.2,672.1 735.5,659.1 735.8,650.4 736.1,643.4 736.3,637.8 736.6,633.2 736.9,629.3 737.2,625.7 737.5,622.3 737.8,619.1 738.1,616.2 738.4,613.4 738.6,610.9 738.9,608.5 739.2,606.3 739.5,604.3 739.8,602.3 740.1,600.4 740.4,598.6 740.7,596.9 740.9,595.2 741.2,593.6 741.5,592.0 741.8,590.4 742.1,588.9 742.4,587.5 742.7,586.6 742.9,584.3 743.2,584.1 743.5,582.2 743.8,581.5 744.1,579.8 744.4,578.6 744.7,578.2 745.0,577.1 745.2,576.1 745.5,574.9 745.8,574.7 746.1,573.6 746.4,573.1 746.7,572.7 747.0,571.1 747.3,570.1 747.5,570.2 747.8,567.8 748.1,568.6 748.4,566.9 748.7,566.4 749.0,567.1 749.3,565.3 749.6,565.6 749.8,564.0" fill="none" stroke="#3f74e0" stroke-width="0.54" stroke-linejoin="round" opacity="0.85"/>
<polyline points="749.8,564.0 750.1,562.8 750.4,561.4 750.7,561.4 751.0,562.4 751.3,561.0 751.6,559.1 751.8,559.4 752.1,557.8 752.4,558.9 752.7,558.3 753.0,558.3 753.3,557.1 753.6,555.4 753.9,556.4 754.1,554.7 754.4,554.5 754.7,553.8 755.0,554.0 755.3,553.4 755.6,551.5 755.9,553.4 756.2,551.6 756.4,550.7 756.7,551.0 757.0,549.8 757.3,552.5 757.6,550.3 757.9,550.5 758.2,549.6 758.4,549.0 758.7,548.3 759.0,548.8 759.3,547.3 759.6,548.6 759.9,546.5 760.2,547.0 760.5,547.7 760.7,547.4 761.0,547.1 761.3,546.2 761.6,545.1 761.9,544.0 762.2,544.0 762.5,545.2 762.8,545.5 763.0,543.9 763.3,544.3 763.6,543.2 763.9,543.3 764.2,540.8 764.5,543.4 764.8,541.7 765.1,540.4 765.3,541.7 765.6,541.7 765.9,539.7 766.2,542.1 766.5,541.5 766.8,540.9 767.1,539.6 767.3,539.1 767.6,539.4 767.9,537.6 768.2,539.0 768.5,538.6 768.8,538.6 769.1,537.3 769.4,537.9 769.6,537.9 769.9,536.3 770.2,536.3 770.5,536.3 770.8,537.6 771.1,537.2 771.4,536.4 771.7,536.2 771.9,536.1 772.2,535.8 772.5,534.9 772.8,535.9 773.1,534.8 773.4,535.0 773.7,534.8 773.9,534.5 774.2,533.6 774.5,533.7 774.8,534.2 775.1,533.2 775.4,533.1 775.7,532.8 776.0,533.0 776.2,531.9 776.5,532.2 776.8,533.0 777.1,532.9 777.4,532.8 777.7,531.4 778.0,531.9 778.3,531.5 778.5,531.1 778.8,530.0 779.1,529.2 779.4,530.5 779.7,528.9 780.0,529.7 780.3,529.1 780.6,529.9 780.8,530.4 781.1,529.0 781.4,528.3 781.7,530.1 782.0,528.9 782.3,528.5 782.6,528.1 782.8,529.0 783.1,528.5 783.4,527.3 783.7,526.5 784.0,527.5 784.3,526.8 784.6,527.2 784.9,526.8 785.1,527.2 785.4,526.9 785.7,527.0 786.0,526.4 786.3,525.5 786.6,526.0 786.9,525.5 787.2,526.2 787.4,525.2 787.7,527.6 788.0,526.3 788.3,525.4 788.6,526.3 788.9,524.5 789.2,524.6 789.4,525.2 789.7,524.4 790.0,525.3 790.3,524.7 790.6,524.2 790.9,524.9 791.2,523.0 791.5,524.0 791.7,522.7 792.0,523.3 792.3,522.9 792.6,523.6 792.9,523.0 793.2,523.0 793.5,522.4 793.8,521.5 794.0,522.6 794.3,522.2 794.6,521.7 794.9,521.3 795.2,521.8 795.5,521.8 795.8,521.8 796.1,521.3 796.3,521.0 796.6,521.5 796.9,521.1 797.2,520.2 797.5,520.6 797.8,520.9 798.1,519.9 798.3,519.7 798.6,519.7 798.9,519.5 799.2,520.1 799.5,519.6 799.8,519.4 800.1,519.4 800.4,520.5 800.6,519.2 800.9,518.8 801.2,518.6 801.5,519.0 801.8,518.6 802.1,519.8 802.4,519.4 802.7,520.3 802.9,518.3 803.2,516.9 803.5,516.7 803.8,518.5 804.1,517.2 804.4,516.7 804.7,517.6 804.9,518.6 805.2,516.2 805.5,517.3 805.8,517.2 806.1,515.6 806.4,516.3 806.7,516.0 807.0,515.3 807.2,516.4 807.5,516.8 807.8,515.5 808.1,515.9 808.4,515.3 808.7,515.4 809.0,516.1 809.3,515.4 809.5,515.5 809.8,515.4 810.1,515.1 810.4,514.7 810.7,514.7 811.0,515.6 811.3,514.2 811.6,515.5 811.8,512.9 812.1,514.8 812.4,514.2 812.7,513.1 813.0,514.1 813.3,514.7 813.6,514.7 813.8,513.4 814.1,513.2 814.4,512.8 814.7,513.1 815.0,513.5 815.3,512.7 815.6,512.0 815.9,513.4 816.1,510.3 816.4,512.9 816.7,511.7 817.0,511.1 817.3,511.7 817.6,512.0 817.9,511.6 818.2,511.1 818.4,513.7 818.7,511.5 819.0,512.0 819.3,512.1 819.6,511.4 819.9,511.3 820.2,511.0 820.4,511.6 820.7,510.4 821.0,512.5 821.3,511.6 821.6,511.7 821.9,510.7 822.2,511.0 822.5,510.2 822.7,511.0 823.0,509.5 823.3,509.8 823.6,510.6 823.9,511.3 824.2,510.9 824.5,511.0 824.8,509.0 825.0,509.3 825.3,510.6 825.6,508.3 825.9,509.7 826.2,511.0 826.5,508.6 826.8,508.4 827.1,509.2 827.3,509.7 827.6,508.2 827.9,509.3 828.2,508.9 828.5,508.5 828.8,508.5 829.1,509.0 829.3,509.3 829.6,508.0 829.9,509.9 830.2,508.1 830.5,508.1 830.8,507.9 831.1,508.4 831.4,507.9 831.6,507.5 831.9,508.7 832.2,507.8 832.5,507.5 832.8,508.6 833.1,508.3 833.4,506.5 833.7,506.8 833.9,508.0 834.2,506.9 834.5,507.1 834.8,506.3 835.1,506.4 835.4,508.8 835.7,507.3 835.9,506.1 836.2,505.9 836.5,507.3 836.8,507.7 837.1,506.6 837.4,507.2 837.7,506.7 838.0,507.4 838.2,506.0 838.5,506.1 838.8,506.1 839.1,507.1 839.4,507.4 839.7,507.1 840.0,505.8 840.3,507.3 840.5,505.6 840.8,504.8 841.1,506.4 841.4,506.0 841.7,505.2 842.0,505.2 842.3,506.1 842.6,505.8 842.8,505.5 843.1,505.7 843.4,505.1 843.7,505.2 844.0,504.5 844.3,506.5 844.6,504.5 844.8,504.7 845.1,505.3 845.4,504.8 845.7,504.4 846.0,504.8 846.3,505.1 846.6,504.7 846.9,505.3 847.1,505.7 847.4,505.4 847.7,505.2 848.0,504.5 848.3,504.1 848.6,504.4 848.9,503.5 849.2,504.5 849.4,504.8 849.7,504.8 850.0,504.9 850.3,504.5 850.6,503.3 850.9,505.2 851.2,503.7 851.4,504.1 851.7,503.4 852.0,504.3 852.3,503.4 852.6,504.2 852.9,503.4 853.2,505.1 853.5,503.4 853.7,503.2 854.0,504.7 854.3,503.0 854.6,504.3 854.9,502.8 855.2,503.4 855.5,502.9 855.8,503.1 856.0,504.1 856.3,502.2 856.6,502.4 856.9,503.8 857.2,502.7 857.5,502.7 857.8,503.5 858.1,503.7 858.3,502.0 858.6,503.1 858.9,502.2 859.2,501.5 859.5,502.4 859.8,503.3 860.1,502.0 860.3,503.5 860.6,503.2 860.9,500.5 861.2,503.0 861.5,502.2 861.8,503.1 862.1,502.4 862.4,502.2 862.6,504.0 862.9,502.7 863.2,501.7 863.5,501.5 863.8,501.9 864.1,502.7 864.4,501.7 864.7,502.3 864.9,502.4 865.2,501.9 865.5,500.3 865.8,502.4 866.1,501.0 866.4,501.5 866.7,502.7 866.9,502.2 867.2,501.7 867.5,501.9 867.8,501.3 868.1,502.1 868.4,502.1 868.7,500.7 869.0,501.3 869.2,501.9 869.5,501.2 869.8,500.0 870.1,501.5 870.4,502.1 870.7,500.4 871.0,499.7 871.3,500.1 871.5,501.8 871.8,502.3 872.1,500.0 872.4,500.9 872.7,500.4 873.0,500.9 873.3,499.6 873.6,500.6 873.8,500.8 874.1,500.5 874.4,501.3 874.7,500.4 875.0,500.5 875.3,501.8 875.6,501.1 875.8,501.2 876.1,501.3 876.4,500.0 876.7,499.4 877.0,499.9 877.3,501.1 877.6,501.3 877.9,499.5 878.1,500.2 878.4,500.0 878.7,500.8 879.0,501.2 879.3,498.3 879.6,500.2 879.9,499.9 880.2,500.5 880.4,498.6 880.7,499.8 881.0,499.7 881.3,499.5 881.6,499.5 881.9,498.5 882.2,500.6 882.4,498.9 882.7,499.7 883.0,499.5 883.3,499.6 883.6,498.9 883.9,500.0 884.2,499.5 884.5,498.7 884.7,499.4 885.0,499.3 885.3,498.7 885.6,498.8 885.9,499.1 886.2,498.8 886.5,499.3 886.8,498.1 887.0,499.4 887.3,499.7 887.6,498.3 887.9,499.4 888.2,499.1 888.5,498.6 888.8,497.9 889.1,498.7 889.3,498.6 889.6,498.6 889.9,498.0 890.2,498.5 890.5,498.0 890.8,497.2 891.1,498.2 891.3,498.3 891.6,498.6 891.9,498.5 892.2,498.7 892.5,498.6 892.8,498.2 893.1,497.5 893.4,497.4 893.6,498.0 893.9,497.4 894.2,498.5 894.5,496.2 894.8,495.8 895.1,497.6 895.4,497.1 895.7,497.3 895.9,496.8 896.2,497.7 896.5,498.3 896.8,496.7 897.1,497.9 897.4,496.9 897.7,497.7 898.0,497.6 898.2,496.3 898.5,495.9 898.8,497.0 899.1,497.2 899.4,496.6 899.7,497.2 900.0,497.9 900.2,496.7 900.5,498.2 900.8,496.4 901.1,496.9 901.4,496.4 901.7,497.5 902.0,497.0 902.3,496.1 902.5,495.5 902.8,495.8 903.1,496.1 903.4,497.0 903.7,495.8 904.0,496.1 904.3,496.4 904.6,495.2 904.8,496.6 905.1,494.8 905.4,496.4 905.7,496.4 906.0,496.0 906.3,496.8 906.6,496.2 906.8,495.7 907.1,496.9 907.4,496.3 907.7,496.6 908.0,495.9 908.3,494.8 908.6,495.9 908.9,495.7 909.1,495.3 909.4,496.2 909.7,495.3 910.0,495.7 910.3,495.8 910.6,496.5 910.9,495.7 911.2,494.5 911.4,494.4 911.7,495.3 912.0,495.1 912.3,495.4 912.6,495.8 912.9,496.2 913.2,493.8 913.5,495.6 913.7,494.7 914.0,493.8 914.3,495.1 914.6,494.9 914.9,494.6 915.2,494.9 915.5,494.5 915.7,494.8 916.0,493.8 916.3,494.2 916.6,495.3 916.9,495.4 917.2,494.9 917.5,494.8 917.8,494.9 918.0,493.7 918.3,494.8 918.6,494.6 918.9,494.1 919.2,495.5 919.5,493.9 919.8,493.7 920.1,493.1 920.3,494.7 920.6,494.3 920.9,493.8 921.2,494.2 921.5,494.9 921.8,493.3 922.1,494.0 922.3,493.6 922.6,494.5 922.9,493.1 923.2,493.9 923.5,494.2 923.8,493.1 924.1,492.9 924.4,494.2 924.6,492.9 924.9,492.4 925.2,493.3 925.5,494.4 925.8,493.0 926.1,492.7 926.4,494.1 926.7,492.2 926.9,493.4 927.2,493.4 927.5,492.5 927.8,493.1 928.1,492.3 928.4,493.2 928.7,492.9 929.0,493.1 929.2,492.9 929.5,492.6 929.8,492.7 930.1,493.2 930.4,492.3 930.7,493.0 931.0,492.1 931.2,492.5 931.5,492.9 931.8,493.3 932.1,492.8 932.4,491.8 932.7,492.6 933.0,492.1 933.3,492.7 933.5,492.9 933.8,493.1 934.1,493.9 934.4,492.4 934.7,492.5 935.0,492.6 935.3,492.0 935.6,493.1 935.8,491.3 936.1,493.4 936.4,492.2 936.7,493.2 937.0,492.5 937.3,491.5 937.6,493.3 937.8,492.1 938.1,492.2 938.4,492.1 938.7,492.0 939.0,491.6 939.3,491.8 939.6,491.9 939.9,491.5 940.1,491.6 940.4,492.1 940.7,492.8 941.0,491.5 941.3,492.2 941.6,490.8 941.9,492.3 942.2,492.7 942.4,491.1 942.7,492.3 943.0,492.8 943.3,491.0 943.6,492.8 943.9,490.9 944.2,492.4 944.5,491.4 944.7,491.5 945.0,492.9 945.3,491.6 945.6,491.9 945.9,491.5 946.2,491.2 946.5,490.5 946.7,491.7 947.0,491.6 947.3,490.0 947.6,490.9 947.9,490.9 948.2,492.4 948.5,492.3 948.8,491.7 949.0,491.4 949.3,491.0 949.6,489.4 949.9,492.1 950.2,491.5 950.5,490.8 950.8,491.0 951.1,490.4 951.3,491.3 951.6,491.7 951.9,489.7 952.2,490.8 952.5,491.9 952.8,491.3 953.1,491.0 953.3,492.0 953.6,490.4 953.9,490.8 954.2,491.2 954.5,491.3 954.8,489.8 955.1,490.9 955.4,491.4 955.6,492.2 955.9,491.5 956.2,490.3 956.5,489.7 956.8,491.5 957.1,492.1 957.4,490.7 957.7,490.7 957.9,490.1 958.2,491.1 958.5,490.5 958.8,491.9 959.1,491.4 959.4,490.9 959.7,490.8 960.0,490.2 960.2,489.7 960.5,491.4 960.8,489.3 961.1,490.9 961.4,490.7 961.7,489.6 962.0,492.0 962.2,491.3 962.5,490.9 962.8,490.3 963.1,489.6 963.4,489.5 963.7,490.9 964.0,489.7 964.3,490.5 964.5,489.2 964.8,490.4 965.1,489.4 965.4,490.8 965.7,489.6 966.0,491.0 966.3,490.0 966.6,491.1 966.8,490.1 967.1,490.5 967.4,490.6 967.7,489.8 968.0,489.4 968.3,489.9 968.6,489.7 968.8,489.4 969.1,489.0 969.4,489.2 969.7,489.6 970.0,488.5 970.3,490.1 970.6,489.2 970.9,490.5 971.1,488.1 971.4,489.9 971.7,489.6 972.0,488.8 972.3,489.8 972.6,490.2 972.9,490.9 973.2,489.8 973.4,488.2 973.7,489.5 974.0,488.4 974.3,489.0 974.6,489.8 974.9,490.5 975.2,489.6 975.5,489.1 975.7,489.6 976.0,489.3 976.3,489.1 976.6,489.7 976.9,490.4 977.2,489.6 977.5,489.0 977.7,489.9 978.0,490.1 978.3,490.0 978.6,489.5 978.9,489.4 979.2,489.3 979.5,490.1 979.8,489.3 980.0,489.7 980.3,489.9 980.6,490.5 980.9,490.0 981.2,489.6 981.5,489.1 981.8,488.9 982.1,489.1 982.3,489.0 982.6,489.9 982.9,488.6 983.2,488.5 983.5,488.6 983.8,489.4 984.1,489.1 984.3,489.4 984.6,489.9 984.9,489.2 985.2,490.0 985.5,490.2 985.8,488.6 986.1,488.6 986.4,488.4 986.6,489.2 986.9,488.9 987.2,488.5 987.5,489.1 987.8,490.2 988.1,487.3 988.4,488.0 988.7,488.0 988.9,488.7 989.2,489.3 989.5,488.7 989.8,488.6 990.1,489.7 990.4,489.0 990.7,488.3 991.0,487.7 991.2,488.3 991.5,488.9 991.8,489.5 992.1,487.3 992.4,488.5 992.7,488.1 993.0,488.6 993.2,489.5 993.5,487.1 993.8,488.1 994.1,487.7 994.4,489.1 994.7,488.5 995.0,487.6 995.3,488.7 995.5,489.0 995.8,489.2 996.1,489.4 996.4,487.9 996.7,488.5 997.0,489.6 997.3,487.4 997.6,487.5 997.8,487.6 998.1,489.6 998.4,488.3 998.7,487.5 999.0,489.0 999.3,488.9 999.6,488.5 999.8,489.7 1000.1,488.2 1000.4,487.6 1000.7,487.8 1001.0,487.3 1001.3,488.2 1001.6,488.3 1001.9,488.4 1002.1,488.7 1002.4,488.9 1002.7,488.7 1003.0,488.3 1003.3,488.6" fill="none" stroke="#3f74e0" stroke-width="0.9" stroke-linejoin="round"/>
<polyline points="1003.9,498.5 1004.2,499.2 1004.5,499.6 1004.8,501.1 1005.1,502.9 1005.3,502.8 1005.6,501.5 1005.9,503.0 1006.2,504.4 1006.5,504.9 1006.8,505.4 1007.1,506.2 1007.3,506.3 1007.6,506.5 1007.9,506.6 1008.2,508.1 1008.5,508.5 1008.8,508.9 1009.1,509.1 1009.4,508.8 1009.6,510.4 1009.9,508.8 1010.2,510.3 1010.5,510.2 1010.8,512.0 1011.1,511.9 1011.4,512.4 1011.7,512.3 1011.9,514.1 1012.2,512.6 1012.5,514.4 1012.8,513.3 1013.1,513.2 1013.4,514.2 1013.7,514.6 1014.0,514.8 1014.2,515.1 1014.5,515.1 1014.8,514.9 1015.1,515.3 1015.4,515.0 1015.7,516.2 1016.0,516.8 1016.2,517.1 1016.5,517.8 1016.8,517.5 1017.1,517.8 1017.4,516.5 1017.7,517.5 1018.0,516.9 1018.3,519.6 1018.5,518.4 1018.8,518.1 1019.1,518.8 1019.4,519.5 1019.7,519.3 1020.0,519.6 1020.3,519.8 1020.6,519.9 1020.8,519.6 1021.1,520.3 1021.4,520.5 1021.7,520.9 1022.0,520.8 1022.3,521.8 1022.6,521.1 1022.8,521.9 1023.1,521.3 1023.4,522.4 1023.7,522.3 1024.0,522.5 1024.3,523.3 1024.6,522.1 1024.9,522.7 1025.1,523.1 1025.4,522.5 1025.7,523.7 1026.0,523.6 1026.3,523.1 1026.6,522.3 1026.9,524.1 1027.2,523.2 1027.4,524.3 1027.7,525.1 1028.0,524.4 1028.3,524.1 1028.6,524.9 1028.9,524.9 1029.2,526.1 1029.5,527.0 1029.7,525.5 1030.0,526.7 1030.3,526.0 1030.6,526.5 1030.9,526.1 1031.2,525.7 1031.5,527.6 1031.7,526.7 1032.0,526.8 1032.3,525.9 1032.6,526.9 1032.9,527.6 1033.2,527.6 1033.5,526.1 1033.8,528.0 1034.0,527.5 1034.3,527.5 1034.6,528.5 1034.9,528.4 1035.2,529.3 1035.5,528.7 1035.8,527.8 1036.1,528.2 1036.3,529.7 1036.6,527.6 1036.9,529.5 1037.2,529.4 1037.5,527.8 1037.8,528.6 1038.1,529.1 1038.3,528.1 1038.6,529.3 1038.9,529.1 1039.2,529.8 1039.5,529.6 1039.8,529.7 1040.1,529.0 1040.4,530.2 1040.6,530.1 1040.9,531.5 1041.2,531.3 1041.5,529.7 1041.8,530.6 1042.1,530.6 1042.4,530.1 1042.7,530.8 1042.9,530.6 1043.2,530.9 1043.5,532.2 1043.8,530.5 1044.1,530.0 1044.4,530.3 1044.7,531.1 1045.0,531.1 1045.2,531.1 1045.5,530.4 1045.8,530.7 1046.1,531.8 1046.4,531.7 1046.7,531.9 1047.0,532.2 1047.2,532.3 1047.5,532.1 1047.8,533.7 1048.1,531.9 1048.4,532.5 1048.7,533.1 1049.0,532.5 1049.3,532.9 1049.5,531.7 1049.8,533.3 1050.1,532.6 1050.4,532.5 1050.7,533.3 1051.0,533.7 1051.3,532.6 1051.6,533.2 1051.8,533.7 1052.1,534.1 1052.4,532.8 1052.7,532.2 1053.0,533.6 1053.3,533.0 1053.6,532.7 1053.8,532.8 1054.1,533.9 1054.4,533.2 1054.7,533.2 1055.0,532.0 1055.3,533.6 1055.6,533.1 1055.9,533.3 1056.1,533.5 1056.4,534.6 1056.7,533.8 1057.0,533.1 1057.3,534.4 1057.6,534.0 1057.9,534.8 1058.2,534.1 1058.4,534.1 1058.7,534.0 1059.0,534.7 1059.3,534.8 1059.6,535.0 1059.9,534.5 1060.2,534.6 1060.5,533.3 1060.7,535.2 1061.0,534.4 1061.3,535.3 1061.6,535.3 1061.9,534.3 1062.2,534.8 1062.5,534.8 1062.7,536.1 1063.0,533.5 1063.3,533.9 1063.6,535.8 1063.9,536.3 1064.2,535.9 1064.5,535.3 1064.8,536.2 1065.0,535.4 1065.3,536.1 1065.6,533.9 1065.9,535.9 1066.2,536.1 1066.5,534.5 1066.8,535.7 1067.1,535.9 1067.3,536.0 1067.6,535.6 1067.9,536.3 1068.2,536.0 1068.5,536.5 1068.8,537.1 1069.1,536.4 1069.3,536.1 1069.6,535.2 1069.9,536.2 1070.2,536.6 1070.5,536.3 1070.8,536.1 1071.1,538.0 1071.4,536.8 1071.6,538.0 1071.9,537.7 1072.2,537.1 1072.5,536.7 1072.8,536.7 1073.1,536.6 1073.4,535.9 1073.7,536.5 1073.9,536.6 1074.2,537.0 1074.5,535.6 1074.8,536.0 1075.1,537.3 1075.4,537.3" fill="none" stroke="#3f74e0" stroke-width="0.9" stroke-linejoin="round"/>
<polyline points="734.6,732.0 734.9,706.3 735.2,685.5 735.5,675.2 735.8,668.1 736.1,662.4 736.3,657.8 736.6,654.1 736.9,651.1 737.2,648.6 737.5,646.3 737.8,644.2 738.1,642.2 738.4,640.4 738.6,638.7 738.9,637.1 739.2,635.7 739.5,634.3 739.8,633.1 740.1,631.9 740.4,630.8 740.7,629.7 740.9,628.8 741.2,627.8 741.5,626.9 741.8,626.0 742.1,625.2 742.4,624.4 742.7,623.6 742.9,621.6 743.2,622.9 743.5,620.9 743.8,621.5 744.1,620.6 744.4,619.0 744.7,619.8 745.0,619.0 745.2,618.5 745.5,617.6 745.8,616.5 746.1,615.4 746.4,616.1 746.7,614.5 747.0,615.4 747.3,612.7 747.5,613.9 747.8,613.5 748.1,612.5 748.4,612.1 748.7,611.7 749.0,612.3 749.3,610.1 749.6,609.7 749.8,610.0" fill="none" stroke="#3aa56e" stroke-width="0.54" stroke-linejoin="round" opacity="0.85"/>
<polyline points="749.8,610.0 750.1,610.1 750.4,608.7 750.7,607.7 751.0,609.1 751.3,608.3 751.6,607.1 751.8,607.2 752.1,606.5 752.4,605.9 752.7,605.0 753.0,604.6 753.3,604.0 753.6,603.7 753.9,604.3 754.1,605.1 754.4,602.9 754.7,602.5 755.0,602.1 755.3,602.5 755.6,600.4 755.9,602.4 756.2,600.4 756.4,600.2 756.7,599.6 757.0,599.0 757.3,599.2 757.6,599.0 757.9,599.1 758.2,598.0 758.4,597.9 758.7,597.3 759.0,598.3 759.3,598.2 759.6,596.8 759.9,596.2 760.2,597.3 760.5,596.6 760.7,595.8 761.0,595.1 761.3,594.8 761.6,594.0 761.9,594.5 762.2,593.8 762.5,592.9 762.8,593.6 763.0,591.7 763.3,593.1 763.6,592.5 763.9,593.6 764.2,592.1 764.5,592.1 764.8,591.9 765.1,591.0 765.3,591.6 765.6,590.5 765.9,591.7 766.2,590.4 766.5,588.9 766.8,589.5 767.1,588.9 767.3,589.6 767.6,589.6 767.9,587.6 768.2,587.5 768.5,587.4 768.8,587.7 769.1,586.6 769.4,587.4 769.6,586.4 769.9,586.2 770.2,587.0 770.5,585.2 770.8,585.8 771.1,585.1 771.4,586.3 771.7,585.9 771.9,585.1 772.2,584.3 772.5,583.6 772.8,583.9 773.1,583.9 773.4,583.2 773.7,583.5 773.9,583.1 774.2,582.7 774.5,583.2 774.8,582.2 775.1,583.2 775.4,582.6 775.7,581.4 776.0,582.1 776.2,581.1 776.5,581.1 776.8,581.2 777.1,579.8 777.4,580.3 777.7,580.8 778.0,580.6 778.3,580.0 778.5,580.9 778.8,579.0 779.1,579.7 779.4,580.6 779.7,580.0 780.0,578.2 780.3,578.9 780.6,577.4 780.8,578.7 781.1,578.3 781.4,577.2 781.7,576.9 782.0,578.8 782.3,577.5 782.6,578.6 782.8,578.1 783.1,578.8 783.4,577.1 783.7,578.1 784.0,577.8 784.3,575.9 784.6,576.4 784.9,577.0 785.1,578.0 785.4,576.4 785.7,578.0 786.0,577.0 786.3,575.8 786.6,575.6 786.9,575.9 787.2,575.4 787.4,575.7 787.7,576.2 788.0,575.6 788.3,574.3 788.6,575.4 788.9,575.0 789.2,574.7 789.4,575.9 789.7,575.6 790.0,575.8 790.3,574.4 790.6,574.8 790.9,575.3 791.2,575.2 791.5,573.8 791.7,573.6 792.0,573.8 792.3,573.9 792.6,573.5 792.9,573.7 793.2,573.4 793.5,573.8 793.8,574.1 794.0,573.8 794.3,573.1 794.6,572.0 794.9,573.6 795.2,573.7 795.5,572.4 795.8,572.3 796.1,573.1 796.3,572.9 796.6,572.9 796.9,572.2 797.2,570.2 797.5,572.7 797.8,571.9 798.1,572.3 798.3,571.8 798.6,571.6 798.9,571.6 799.2,572.3 799.5,572.2 799.8,570.9 800.1,571.2 800.4,571.2 800.6,570.8 800.9,571.6 801.2,570.3 801.5,571.5 801.8,571.6 802.1,571.5 802.4,570.8 802.7,568.9 802.9,570.5 803.2,570.3 803.5,569.4 803.8,570.6 804.1,571.2 804.4,570.6 804.7,570.3 804.9,571.1 805.2,570.1 805.5,569.8 805.8,568.4 806.1,569.2 806.4,569.6 806.7,569.9 807.0,570.0 807.2,570.6 807.5,569.4 807.8,570.8 808.1,569.3 808.4,568.0 808.7,569.3 809.0,568.7 809.3,569.5 809.5,570.1 809.8,568.6 810.1,568.9 810.4,568.3 810.7,568.5 811.0,568.1 811.3,568.7 811.6,568.0 811.8,567.6 812.1,568.5 812.4,568.3 812.7,567.3 813.0,567.6 813.3,568.0 813.6,568.8 813.8,567.9 814.1,566.7 814.4,567.9 814.7,567.7 815.0,568.1 815.3,567.5 815.6,567.3 815.9,567.1 816.1,567.6 816.4,567.9 816.7,565.7 817.0,566.9 817.3,567.5 817.6,567.0 817.9,566.5 818.2,566.0 818.4,566.5 818.7,566.8 819.0,566.2 819.3,567.4 819.6,567.0 819.9,565.5 820.2,566.1 820.4,566.2 820.7,566.5 821.0,566.8 821.3,565.8 821.6,565.9 821.9,564.7 822.2,566.4 822.5,565.7 822.7,565.9 823.0,566.2 823.3,564.3 823.6,564.6 823.9,565.3 824.2,566.3 824.5,565.1 824.8,564.9 825.0,565.6 825.3,566.2 825.6,563.9 825.9,565.9 826.2,564.2 826.5,565.3 826.8,565.1 827.1,564.1 827.3,565.5 827.6,564.9 827.9,564.6 828.2,563.8 828.5,563.8 828.8,564.3 829.1,565.2 829.3,563.5 829.6,564.5 829.9,564.0 830.2,565.4 830.5,564.2 830.8,563.7 831.1,564.2 831.4,563.5 831.6,563.0 831.9,562.7 832.2,564.1 832.5,564.7 832.8,565.3 833.1,563.8 833.4,564.6 833.7,563.2 833.9,564.8 834.2,562.6 834.5,563.3 834.8,564.3 835.1,563.0 835.4,562.8 835.7,562.7 835.9,563.1 836.2,562.6 836.5,562.6 836.8,563.1 837.1,562.8 837.4,563.7 837.7,562.2 838.0,563.6 838.2,562.8 838.5,563.4 838.8,561.9 839.1,562.4 839.4,563.1 839.7,562.2 840.0,562.5 840.3,561.9 840.5,562.2 840.8,562.2 841.1,562.3 841.4,563.2 841.7,561.8 842.0,561.5 842.3,562.6 842.6,561.6 842.8,561.1 843.1,561.2 843.4,560.9 843.7,561.1 844.0,561.9 844.3,560.2 844.6,561.5 844.8,561.9 845.1,560.5 845.4,561.8 845.7,560.8 846.0,561.8 846.3,560.4 846.6,560.3 846.9,561.4 847.1,560.7 847.4,560.5 847.7,561.0 848.0,560.6 848.3,560.9 848.6,561.3 848.9,561.4 849.2,560.5 849.4,560.3 849.7,560.1 850.0,560.3 850.3,560.1 850.6,560.7 850.9,559.3 851.2,560.9 851.4,559.8 851.7,560.4 852.0,560.4 852.3,558.8 852.6,559.8 852.9,560.8 853.2,559.8 853.5,560.3 853.7,558.7 854.0,560.4 854.3,559.8 854.6,560.1 854.9,560.1 855.2,559.2 855.5,558.9 855.8,558.8 856.0,559.7 856.3,559.9 856.6,559.1 856.9,559.7 857.2,558.4 857.5,560.3 857.8,559.0 858.1,560.1 858.3,559.9 858.6,560.2 858.9,560.0 859.2,558.8 859.5,559.5 859.8,559.7 860.1,559.8 860.3,559.5 860.6,559.2 860.9,558.3 861.2,558.8 861.5,558.8 861.8,558.8 862.1,558.2 862.4,559.2 862.6,558.4 862.9,559.3 863.2,559.2 863.5,558.0 863.8,558.4 864.1,558.5 864.4,559.0 864.7,558.0 864.9,556.8 865.2,557.8 865.5,557.8 865.8,558.1 866.1,557.3 866.4,558.2 866.7,556.0 866.9,557.7 867.2,557.8 867.5,557.0 867.8,558.5 868.1,558.1 868.4,558.1 868.7,557.7 869.0,556.4 869.2,558.1 869.5,555.8 869.8,556.8 870.1,556.3 870.4,557.2 870.7,558.3 871.0,558.0 871.3,556.3 871.5,557.3 871.8,556.8 872.1,556.8 872.4,556.0 872.7,556.1 873.0,556.6 873.3,556.7 873.6,556.1 873.8,557.4 874.1,557.1 874.4,557.5 874.7,557.2 875.0,557.5 875.3,555.9 875.6,556.6 875.8,555.2 876.1,556.5 876.4,556.1 876.7,556.5 877.0,555.7 877.3,555.7 877.6,556.3 877.9,555.8 878.1,556.5 878.4,556.3 878.7,556.6 879.0,555.3 879.3,556.4 879.6,556.5 879.9,555.1 880.2,555.7 880.4,556.5 880.7,556.3 881.0,555.9 881.3,556.2 881.6,555.5 881.9,556.2 882.2,556.2 882.4,554.8 882.7,554.2 883.0,554.3 883.3,555.4 883.6,554.8 883.9,555.2 884.2,553.8 884.5,554.8 884.7,554.6 885.0,553.6 885.3,554.0 885.6,554.7 885.9,555.4 886.2,554.9 886.5,555.5 886.8,553.4 887.0,554.6 887.3,554.0 887.6,554.3 887.9,554.8 888.2,554.1 888.5,554.0 888.8,554.2 889.1,554.2 889.3,553.9 889.6,554.7 889.9,554.1 890.2,554.3 890.5,554.4 890.8,553.8 891.1,555.3 891.3,554.7 891.6,553.9 891.9,552.7 892.2,553.3 892.5,554.1 892.8,552.6 893.1,553.4 893.4,553.9 893.6,553.5 893.9,552.4 894.2,552.8 894.5,553.7 894.8,553.9 895.1,552.8 895.4,553.9 895.7,553.4 895.9,552.6 896.2,553.7 896.5,553.5 896.8,552.8 897.1,553.0 897.4,551.9 897.7,552.8 898.0,552.3 898.2,552.2 898.5,553.0 898.8,552.0 899.1,551.7 899.4,552.6 899.7,552.8 900.0,552.6 900.2,551.4 900.5,552.3 900.8,552.6 901.1,553.0 901.4,552.2 901.7,553.0 902.0,551.5 902.3,552.6 902.5,552.8 902.8,551.3 903.1,551.7 903.4,551.6 903.7,552.4 904.0,551.3 904.3,551.5 904.6,551.6 904.8,551.1 905.1,550.9 905.4,551.6 905.7,550.5 906.0,551.1 906.3,551.5 906.6,551.0 906.8,551.2 907.1,550.3 907.4,551.1 907.7,551.3 908.0,551.2 908.3,550.6 908.6,552.1 908.9,551.9 909.1,551.2 909.4,550.7 909.7,550.6 910.0,551.1 910.3,551.9 910.6,552.2 910.9,551.0 911.2,551.1 911.4,550.6 911.7,550.1 912.0,551.3 912.3,549.7 912.6,550.9 912.9,550.7 913.2,550.4 913.5,551.7 913.7,548.9 914.0,550.6 914.3,549.7 914.6,550.8 914.9,551.4 915.2,551.0 915.5,551.0 915.7,551.5 916.0,551.9 916.3,549.7 916.6,550.6 916.9,550.0 917.2,549.2 917.5,550.4 917.8,550.0 918.0,549.3 918.3,549.7 918.6,549.7 918.9,550.5 919.2,550.4 919.5,549.3 919.8,549.9 920.1,549.1 920.3,549.2 920.6,549.4 920.9,549.2 921.2,549.5 921.5,548.8 921.8,550.9 922.1,550.0 922.3,549.3 922.6,548.4 922.9,550.5 923.2,549.7 923.5,549.1 923.8,548.5 924.1,549.6 924.4,550.6 924.6,549.0 924.9,548.7 925.2,548.9 925.5,548.9 925.8,548.8 926.1,549.6 926.4,548.7 926.7,548.5 926.9,549.0 927.2,549.6 927.5,549.4 927.8,548.5 928.1,549.4 928.4,548.1 928.7,548.8 929.0,549.1 929.2,548.3 929.5,548.9 929.8,547.4 930.1,547.9 930.4,549.3 930.7,549.0 931.0,550.1 931.2,548.2 931.5,548.4 931.8,548.6 932.1,549.6 932.4,547.6 932.7,547.8 933.0,548.9 933.3,549.0 933.5,548.9 933.8,548.0 934.1,548.3 934.4,548.6 934.7,548.7 935.0,549.4 935.3,548.9 935.6,549.6 935.8,547.8 936.1,548.5 936.4,548.4 936.7,548.7 937.0,549.0 937.3,549.7 937.6,548.9 937.8,548.7 938.1,548.6 938.4,547.7 938.7,547.7 939.0,548.9 939.3,548.8 939.6,547.6 939.9,549.6 940.1,548.4 940.4,547.6 940.7,548.0 941.0,548.4 941.3,547.6 941.6,548.5 941.9,548.6 942.2,547.9 942.4,548.1 942.7,547.6 943.0,547.2 943.3,547.0 943.6,549.5 943.9,547.7 944.2,547.5 944.5,547.3 944.7,548.1 945.0,548.0 945.3,547.6 945.6,548.3 945.9,548.9 946.2,547.3 946.5,547.3 946.7,548.5 947.0,547.0 947.3,548.3 947.6,547.4 947.9,548.5 948.2,547.6 948.5,548.1 948.8,547.9 949.0,547.4 949.3,547.1 949.6,548.2 949.9,546.5 950.2,548.1 950.5,548.5 950.8,547.7 951.1,546.2 951.3,547.8 951.6,548.3 951.9,547.9 952.2,547.2 952.5,547.0 952.8,547.1 953.1,546.6 953.3,546.0 953.6,547.2 953.9,547.0 954.2,547.2 954.5,547.0 954.8,546.4 955.1,547.0 955.4,547.8 955.6,546.6 955.9,546.1 956.2,547.0 956.5,545.9 956.8,546.4 957.1,548.1 957.4,547.4 957.7,547.8 957.9,547.4 958.2,547.6 958.5,546.9 958.8,546.6 959.1,548.3 959.4,546.5 959.7,547.1 960.0,546.3 960.2,547.1 960.5,548.5 960.8,547.0 961.1,546.7 961.4,546.6 961.7,546.9 962.0,547.6 962.2,547.5 962.5,547.4 962.8,547.5 963.1,546.8 963.4,546.6 963.7,546.3 964.0,546.5 964.3,546.9 964.5,546.4 964.8,546.8 965.1,547.4 965.4,546.1 965.7,546.8 966.0,546.8 966.3,545.9 966.6,546.3 966.8,546.2 967.1,545.4 967.4,545.9 967.7,546.1 968.0,546.5 968.3,547.9 968.6,548.2 968.8,547.2 969.1,545.1 969.4,546.7 969.7,546.9 970.0,546.2 970.3,545.8 970.6,546.3 970.9,546.2 971.1,546.3 971.4,546.8 971.7,546.9 972.0,548.0 972.3,546.6 972.6,546.6 972.9,546.3 973.2,545.9 973.4,547.4 973.7,547.3 974.0,546.1 974.3,547.6 974.6,546.4 974.9,546.5 975.2,546.2 975.5,547.1 975.7,546.1 976.0,547.3 976.3,546.0 976.6,546.5 976.9,546.8 977.2,546.4 977.5,545.7 977.7,547.2 978.0,546.6 978.3,547.3 978.6,545.9 978.9,546.0 979.2,547.1 979.5,546.7 979.8,547.2 980.0,546.5 980.3,545.8 980.6,546.9 980.9,546.5 981.2,547.6 981.5,545.4 981.8,547.3 982.1,546.4 982.3,546.7 982.6,545.8 982.9,546.7 983.2,546.8 983.5,547.4 983.8,545.7 984.1,547.7 984.3,545.5 984.6,545.6 984.9,545.3 985.2,547.1 985.5,547.0 985.8,546.3 986.1,545.7 986.4,547.2 986.6,545.6 986.9,547.2 987.2,546.0 987.5,546.4 987.8,546.3 988.1,546.5 988.4,546.0 988.7,547.6 988.9,545.8 989.2,546.8 989.5,546.6 989.8,547.0 990.1,546.0 990.4,546.2 990.7,546.7 991.0,547.0 991.2,545.2 991.5,546.6 991.8,546.1 992.1,546.6 992.4,545.7 992.7,545.5 993.0,545.7 993.2,545.3 993.5,545.3 993.8,547.8 994.1,546.8 994.4,547.2 994.7,546.0 995.0,546.2 995.3,547.2 995.5,545.3 995.8,546.3 996.1,545.3 996.4,546.8 996.7,545.8 997.0,545.5 997.3,546.6 997.6,546.1 997.8,546.4 998.1,546.6 998.4,546.1 998.7,547.6 999.0,545.9 999.3,546.3 999.6,547.2 999.8,545.9 1000.1,547.7 1000.4,547.1 1000.7,545.6 1001.0,546.0 1001.3,546.8 1001.6,545.4 1001.9,546.6 1002.1,546.5 1002.4,546.3 1002.7,545.9 1003.0,546.0 1003.3,547.0" fill="none" stroke="#3aa56e" stroke-width="0.9" stroke-linejoin="round"/>
<polyline points="1003.9,551.5 1004.2,551.4 1004.5,551.6 1004.8,552.7 1005.1,552.8 1005.3,553.3 1005.6,555.1 1005.9,555.0 1006.2,554.0 1006.5,556.0 1006.8,555.8 1007.1,557.6 1007.3,555.1 1007.6,558.0 1007.9,557.5 1008.2,557.9 1008.5,559.6 1008.8,559.1 1009.1,558.5 1009.4,560.0 1009.6,559.3 1009.9,560.4 1010.2,559.7 1010.5,559.3 1010.8,561.8 1011.1,561.2 1011.4,562.1 1011.7,562.6 1011.9,562.2 1012.2,562.3 1012.5,562.4 1012.8,562.7 1013.1,564.7 1013.4,563.8 1013.7,565.1 1014.0,563.8 1014.2,563.7 1014.5,564.3 1014.8,565.0 1015.1,564.7 1015.4,564.6 1015.7,565.0 1016.0,565.9 1016.2,566.0 1016.5,565.2 1016.8,566.2 1017.1,566.3 1017.4,566.6 1017.7,566.4 1018.0,566.7 1018.3,567.4 1018.5,567.7 1018.8,567.8 1019.1,567.7 1019.4,567.6 1019.7,569.1 1020.0,567.4 1020.3,569.3 1020.6,568.7 1020.8,569.7 1021.1,569.5 1021.4,569.4 1021.7,569.2 1022.0,569.6 1022.3,569.3 1022.6,570.3 1022.8,569.2 1023.1,571.5 1023.4,570.4 1023.7,570.6 1024.0,571.2 1024.3,571.1 1024.6,571.8 1024.9,571.2 1025.1,571.9 1025.4,571.3 1025.7,571.7 1026.0,571.8 1026.3,572.2 1026.6,572.9 1026.9,572.1 1027.2,572.1 1027.4,573.0 1027.7,573.7 1028.0,573.5 1028.3,572.6 1028.6,574.5 1028.9,573.3 1029.2,573.9 1029.5,573.3 1029.7,574.9 1030.0,573.8 1030.3,574.9 1030.6,574.0 1030.9,573.3 1031.2,574.7 1031.5,573.4 1031.7,574.8 1032.0,574.4 1032.3,573.5 1032.6,574.5 1032.9,574.9 1033.2,576.9 1033.5,576.0 1033.8,575.3 1034.0,576.2 1034.3,576.5 1034.6,575.6 1034.9,577.0 1035.2,576.9 1035.5,575.8 1035.8,575.1 1036.1,577.0 1036.3,576.5 1036.6,576.3 1036.9,577.2 1037.2,577.5 1037.5,576.7 1037.8,577.8 1038.1,577.7 1038.3,576.1 1038.6,578.7 1038.9,576.2 1039.2,576.7 1039.5,578.1 1039.8,577.1 1040.1,577.8 1040.4,578.6 1040.6,578.5 1040.9,578.7 1041.2,577.3 1041.5,579.2 1041.8,579.3 1042.1,578.8 1042.4,579.1 1042.7,577.3 1042.9,579.2 1043.2,579.4 1043.5,579.6 1043.8,579.7 1044.1,580.6 1044.4,579.3 1044.7,579.9 1045.0,579.7 1045.2,578.8 1045.5,579.0 1045.8,579.2 1046.1,580.4 1046.4,580.0 1046.7,580.3 1047.0,580.3 1047.2,580.2 1047.5,580.6 1047.8,579.6 1048.1,580.8 1048.4,579.5 1048.7,580.2 1049.0,580.7 1049.3,580.3 1049.5,580.9 1049.8,581.0 1050.1,580.2 1050.4,581.1 1050.7,578.2 1051.0,581.8 1051.3,582.0 1051.6,580.3 1051.8,581.6 1052.1,581.7 1052.4,582.1 1052.7,581.6 1053.0,582.0 1053.3,581.1 1053.6,582.0 1053.8,581.7 1054.1,581.3 1054.4,581.6 1054.7,582.2 1055.0,582.6 1055.3,583.0 1055.6,583.1 1055.9,581.6 1056.1,582.5 1056.4,582.5 1056.7,582.1 1057.0,582.1 1057.3,581.7 1057.6,582.1 1057.9,582.6 1058.2,583.3 1058.4,582.3 1058.7,582.7 1059.0,582.7 1059.3,583.3 1059.6,582.6 1059.9,582.3 1060.2,583.0 1060.5,582.5 1060.7,582.9 1061.0,583.2 1061.3,582.3 1061.6,583.3 1061.9,583.0 1062.2,584.2 1062.5,582.7 1062.7,583.6 1063.0,583.4 1063.3,583.7 1063.6,583.2 1063.9,583.9 1064.2,584.2 1064.5,583.5 1064.8,583.4 1065.0,584.0 1065.3,583.3 1065.6,583.0 1065.9,584.3 1066.2,583.5 1066.5,583.6 1066.8,584.9 1067.1,584.8 1067.3,585.5 1067.6,583.1 1067.9,584.4 1068.2,584.4 1068.5,583.7 1068.8,583.1 1069.1,583.9 1069.3,583.2 1069.6,583.4 1069.9,581.8 1070.2,585.0 1070.5,584.6 1070.8,584.9 1071.1,584.0 1071.4,585.0 1071.6,584.0 1071.9,585.8 1072.2,583.9 1072.5,584.2 1072.8,583.6 1073.1,584.2 1073.4,584.6 1073.7,584.4 1073.9,586.1 1074.2,584.9 1074.5,584.6 1074.8,583.6 1075.1,584.7 1075.4,585.9" fill="none" stroke="#3aa56e" stroke-width="0.9" stroke-linejoin="round"/>
<polyline points="734.6,732.0 734.9,718.1 735.2,716.3 735.5,715.6 735.8,715.0 736.1,714.7 736.3,714.4 736.6,714.2 736.9,714.1 737.2,713.9 737.5,713.7 737.8,713.6 738.1,713.4 738.4,713.3 738.6,713.1 738.9,713.0 739.2,712.9 739.5,712.8 739.8,712.7 740.1,712.6 740.4,712.5 740.7,712.4 740.9,712.4 741.2,712.3 741.5,712.2 741.8,712.2 742.1,712.1 742.4,712.1 742.7,712.1 742.9,713.0 743.2,712.6 743.5,712.0 743.8,712.4 744.1,711.6 744.4,711.6 744.7,711.5 745.0,711.4 745.2,711.6 745.5,711.5 745.8,711.5 746.1,712.2 746.4,711.6 746.7,711.6 747.0,711.0 747.3,711.7 747.5,711.9 747.8,710.4 748.1,711.0 748.4,710.8 748.7,710.5 749.0,711.5 749.3,710.7 749.6,711.1 749.8,711.8" fill="none" stroke="#bf7fe0" stroke-width="0.54" stroke-linejoin="round" opacity="0.85"/>
<polyline points="749.8,711.8 750.1,711.1 750.4,711.1 750.7,710.9 751.0,711.3 751.3,711.2 751.6,711.7 751.8,710.6 752.1,712.1 752.4,711.0 752.7,711.3 753.0,711.2 753.3,710.8 753.6,711.1 753.9,711.8 754.1,712.0 754.4,711.9 754.7,711.3 755.0,711.0 755.3,711.0 755.6,710.8 755.9,710.7 756.2,711.0 756.4,711.5 756.7,711.0 757.0,711.1 757.3,709.8 757.6,710.2 757.9,711.1 758.2,710.7 758.4,710.0 758.7,710.5 759.0,710.0 759.3,710.4 759.6,710.4 759.9,710.2 760.2,710.8 760.5,710.9 760.7,710.7 761.0,709.9 761.3,710.3 761.6,711.1 761.9,709.9 762.2,710.1 762.5,709.9 762.8,710.2 763.0,710.3 763.3,711.4 763.6,710.2 763.9,711.2 764.2,710.4 764.5,709.3 764.8,710.1 765.1,710.1 765.3,710.5 765.6,710.1 765.9,710.9 766.2,710.3 766.5,710.0 766.8,710.3 767.1,710.7 767.3,711.3 767.6,710.4 767.9,710.5 768.2,710.4 768.5,709.8 768.8,711.0 769.1,709.6 769.4,710.7 769.6,708.7 769.9,709.3 770.2,709.6 770.5,710.4 770.8,709.8 771.1,709.8 771.4,710.2 771.7,710.1 771.9,709.3 772.2,709.7 772.5,708.8 772.8,709.1 773.1,709.8 773.4,709.4 773.7,709.6 773.9,710.3 774.2,709.4 774.5,710.1 774.8,708.9 775.1,709.1 775.4,710.9 775.7,709.5 776.0,710.1 776.2,708.7 776.5,709.6 776.8,709.4 777.1,709.2 777.4,710.0 777.7,709.4 778.0,708.8 778.3,709.8 778.5,709.1 778.8,709.5 779.1,708.2 779.4,708.3 779.7,709.4 780.0,709.5 780.3,709.1 780.6,709.4 780.8,709.4 781.1,709.6 781.4,708.4 781.7,708.1 782.0,709.0 782.3,710.1 782.6,709.9 782.8,708.9 783.1,709.7 783.4,709.5 783.7,709.1 784.0,709.4 784.3,708.5 784.6,709.8 784.9,709.0 785.1,709.7 785.4,709.0 785.7,710.0 786.0,709.3 786.3,708.4 786.6,709.4 786.9,708.8 787.2,709.3 787.4,708.9 787.7,709.1 788.0,708.6 788.3,709.5 788.6,709.0 788.9,708.5 789.2,709.2 789.4,708.5 789.7,708.4 790.0,708.7 790.3,709.9 790.6,707.9 790.9,709.4 791.2,708.7 791.5,708.5 791.7,707.8 792.0,708.7 792.3,709.1 792.6,708.3 792.9,707.8 793.2,709.1 793.5,708.3 793.8,708.6 794.0,708.5 794.3,708.7 794.6,708.4 794.9,708.2 795.2,707.2 795.5,709.5 795.8,707.6 796.1,708.4 796.3,709.0 796.6,709.2 796.9,707.7 797.2,709.3 797.5,707.4 797.8,709.1 798.1,708.2 798.3,708.9 798.6,709.1 798.9,708.7 799.2,707.3 799.5,708.2 799.8,708.1 800.1,707.8 800.4,707.6 800.6,708.7 800.9,708.0 801.2,708.2 801.5,708.4 801.8,709.3 802.1,707.7 802.4,707.8 802.7,708.4 802.9,706.2 803.2,708.8 803.5,708.2 803.8,708.0 804.1,708.5 804.4,708.1 804.7,707.3 804.9,708.6 805.2,709.1 805.5,708.4 805.8,708.5 806.1,708.3 806.4,708.4 806.7,708.0 807.0,706.8 807.2,708.0 807.5,706.8 807.8,708.0 808.1,708.3 808.4,709.0 808.7,707.8 809.0,707.6 809.3,706.5 809.5,708.8 809.8,708.3 810.1,708.1 810.4,708.0 810.7,707.9 811.0,708.3 811.3,707.9 811.6,708.4 811.8,708.4 812.1,707.7 812.4,707.2 812.7,708.1 813.0,708.7 813.3,708.0 813.6,707.7 813.8,707.8 814.1,707.1 814.4,708.3 814.7,707.8 815.0,708.0 815.3,706.8 815.6,707.5 815.9,707.8 816.1,708.1 816.4,707.2 816.7,708.3 817.0,707.0 817.3,707.0 817.6,707.2 817.9,707.5 818.2,707.5 818.4,707.1 818.7,707.6 819.0,707.0 819.3,708.3 819.6,706.8 819.9,707.5 820.2,706.8 820.4,707.2 820.7,707.7 821.0,707.5 821.3,707.7 821.6,707.0 821.9,708.1 822.2,708.1 822.5,706.9 822.7,707.2 823.0,707.9 823.3,707.0 823.6,708.0 823.9,707.3 824.2,708.0 824.5,706.9 824.8,707.3 825.0,707.1 825.3,708.4 825.6,707.8 825.9,708.0 826.2,707.5 826.5,707.2 826.8,708.1 827.1,707.5 827.3,707.3 827.6,707.0 827.9,707.3 828.2,707.1 828.5,706.5 828.8,708.0 829.1,706.5 829.3,707.9 829.6,707.1 829.9,707.5 830.2,707.0 830.5,707.2 830.8,706.4 831.1,707.9 831.4,706.5 831.6,706.8 831.9,706.4 832.2,707.3 832.5,706.2 832.8,706.8 833.1,706.6 833.4,706.9 833.7,706.6 833.9,706.2 834.2,707.1 834.5,707.9 834.8,706.8 835.1,706.5 835.4,707.3 835.7,707.1 835.9,707.7 836.2,706.6 836.5,707.4 836.8,706.4 837.1,706.3 837.4,705.8 837.7,706.2 838.0,706.2 838.2,706.8 838.5,705.7 838.8,707.8 839.1,707.4 839.4,705.8 839.7,707.1 840.0,707.3 840.3,707.1 840.5,706.3 840.8,706.1 841.1,706.3 841.4,707.0 841.7,706.8 842.0,706.3 842.3,706.8 842.6,706.4 842.8,707.3 843.1,706.0 843.4,706.5 843.7,706.6 844.0,706.9 844.3,707.8 844.6,705.9 844.8,706.9 845.1,706.6 845.4,706.6 845.7,706.1 846.0,706.6 846.3,705.5 846.6,706.1 846.9,706.7 847.1,706.8 847.4,705.1 847.7,706.9 848.0,706.7 848.3,707.0 848.6,706.3 848.9,706.5 849.2,705.8 849.4,706.9 849.7,707.2 850.0,705.5 850.3,707.8 850.6,706.4 850.9,707.3 851.2,706.1 851.4,706.8 851.7,706.0 852.0,706.6 852.3,706.2 852.6,707.0 852.9,706.3 853.2,706.2 853.5,706.2 853.7,705.7 854.0,705.8 854.3,704.8 854.6,706.9 854.9,706.0 855.2,706.2 855.5,705.9 855.8,705.4 856.0,705.1 856.3,705.3 856.6,706.7 856.9,706.6 857.2,706.7 857.5,706.2 857.8,706.9 858.1,706.2 858.3,707.0 858.6,706.3 858.9,706.1 859.2,705.4 859.5,706.1 859.8,706.2 860.1,705.7 860.3,706.5 860.6,705.4 860.9,706.0 861.2,705.7 861.5,706.1 861.8,706.0 862.1,706.2 862.4,706.3 862.6,705.9 862.9,705.5 863.2,706.7 863.5,705.9 863.8,705.3 864.1,706.1 864.4,705.3 864.7,705.5 864.9,706.4 865.2,706.2 865.5,705.1 865.8,705.2 866.1,705.6 866.4,705.7 866.7,707.1 866.9,705.8 867.2,706.7 867.5,705.9 867.8,705.8 868.1,705.8 868.4,705.5 868.7,705.7 869.0,706.4 869.2,706.0 869.5,705.2 869.8,704.6 870.1,706.3 870.4,705.4 870.7,705.1 871.0,705.4 871.3,705.7 871.5,705.0 871.8,704.6 872.1,705.5 872.4,706.0 872.7,706.3 873.0,705.2 873.3,704.8 873.6,705.7 873.8,705.5 874.1,705.7 874.4,704.4 874.7,706.0 875.0,705.1 875.3,705.8 875.6,705.1 875.8,705.2 876.1,704.8 876.4,705.5 876.7,705.8 877.0,705.7 877.3,706.0 877.6,704.9 877.9,705.4 878.1,706.3 878.4,705.3 878.7,705.6 879.0,706.3 879.3,705.6 879.6,705.4 879.9,705.7 880.2,705.7 880.4,706.0 880.7,706.0 881.0,704.3 881.3,706.0 881.6,705.0 881.9,705.1 882.2,705.3 882.4,706.4 882.7,704.7 883.0,705.7 883.3,704.1 883.6,705.5 883.9,705.9 884.2,704.6 884.5,705.4 884.7,705.1 885.0,704.7 885.3,705.7 885.6,705.9 885.9,705.2 886.2,704.6 886.5,705.3 886.8,705.4 887.0,704.4 887.3,704.6 887.6,705.1 887.9,704.0 888.2,705.4 888.5,705.0 888.8,705.6 889.1,704.8 889.3,704.5 889.6,705.2 889.9,705.8 890.2,704.9 890.5,705.1 890.8,704.8 891.1,705.7 891.3,704.9 891.6,705.4 891.9,704.6 892.2,705.0 892.5,705.1 892.8,704.9 893.1,704.6 893.4,704.1 893.6,705.1 893.9,704.9 894.2,705.4 894.5,704.9 894.8,705.7 895.1,705.1 895.4,704.1 895.7,704.9 895.9,705.1 896.2,705.2 896.5,705.4 896.8,704.5 897.1,705.1 897.4,705.3 897.7,704.0 898.0,704.3 898.2,704.7 898.5,705.2 898.8,704.1 899.1,703.8 899.4,704.9 899.7,704.6 900.0,704.5 900.2,704.0 900.5,704.5 900.8,704.6 901.1,704.9 901.4,705.1 901.7,704.6 902.0,704.7 902.3,704.9 902.5,705.3 902.8,704.8 903.1,705.0 903.4,704.7 903.7,704.2 904.0,704.3 904.3,704.0 904.6,705.7 904.8,704.0 905.1,705.4 905.4,704.5 905.7,704.8 906.0,704.4 906.3,705.2 906.6,704.4 906.8,705.7 907.1,704.1 907.4,705.3 907.7,703.5 908.0,705.0 908.3,704.8 908.6,704.8 908.9,704.4 909.1,704.8 909.4,704.8 909.7,705.0 910.0,704.7 910.3,704.1 910.6,705.0 910.9,704.6 911.2,704.9 911.4,704.8 911.7,704.5 912.0,704.5 912.3,705.3 912.6,704.4 912.9,704.7 913.2,704.5 913.5,703.4 913.7,704.6 914.0,705.5 914.3,704.0 914.6,705.1 914.9,705.0 915.2,704.9 915.5,704.3 915.7,705.5 916.0,705.0 916.3,705.1 916.6,704.3 916.9,704.5 917.2,704.7 917.5,704.7 917.8,705.1 918.0,705.3 918.3,704.2 918.6,704.9 918.9,704.6 919.2,704.9 919.5,705.3 919.8,705.3 920.1,704.4 920.3,703.5 920.6,704.6 920.9,703.8 921.2,704.7 921.5,704.6 921.8,704.3 922.1,705.1 922.3,704.6 922.6,704.8 922.9,704.3 923.2,705.7 923.5,704.0 923.8,704.1 924.1,704.4 924.4,704.4 924.6,704.7 924.9,704.7 925.2,704.4 925.5,705.3 925.8,705.0 926.1,704.8 926.4,703.4 926.7,704.8 926.9,703.5 927.2,704.9 927.5,706.4 927.8,704.7 928.1,704.5 928.4,703.6 928.7,705.0 929.0,704.3 929.2,705.0 929.5,704.4 929.8,704.3 930.1,705.1 930.4,704.1 930.7,704.3 931.0,705.0 931.2,704.0 931.5,704.9 931.8,704.3 932.1,704.8 932.4,705.0 932.7,703.9 933.0,703.6 933.3,704.0 933.5,704.2 933.8,704.7 934.1,703.4 934.4,704.5 934.7,704.3 935.0,704.9 935.3,705.2 935.6,704.3 935.8,704.2 936.1,705.1 936.4,704.8 936.7,704.6 937.0,704.5 937.3,705.2 937.6,705.4 937.8,704.9 938.1,704.4 938.4,704.2 938.7,704.8 939.0,703.6 939.3,705.2 939.6,704.8 939.9,704.6 940.1,704.5 940.4,704.4 940.7,705.0 941.0,705.0 941.3,705.4 941.6,704.2 941.9,705.0 942.2,704.6 942.4,704.1 942.7,704.5 943.0,705.3 943.3,704.7 943.6,704.4 943.9,703.7 944.2,704.4 944.5,705.0 944.7,702.8 945.0,704.0 945.3,704.4 945.6,705.1 945.9,705.3 946.2,704.6 946.5,704.5 946.7,704.9 947.0,704.3 947.3,704.7 947.6,705.5 947.9,703.7 948.2,705.6 948.5,704.0 948.8,704.9 949.0,705.8 949.3,705.1 949.6,704.0 949.9,705.4 950.2,704.9 950.5,703.9 950.8,705.2 951.1,704.3 951.3,705.4 951.6,704.7 951.9,704.8 952.2,704.7 952.5,705.0 952.8,704.0 953.1,705.5 953.3,703.9 953.6,704.7 953.9,705.1 954.2,704.4 954.5,704.3 954.8,704.6 955.1,704.8 955.4,703.6 955.6,704.5 955.9,705.2 956.2,703.6 956.5,704.2 956.8,704.6 957.1,705.2 957.4,704.1 957.7,704.9 957.9,704.8 958.2,704.9 958.5,705.4 958.8,703.5 959.1,704.4 959.4,704.1 959.7,705.0 960.0,703.9 960.2,706.2 960.5,704.9 960.8,706.1 961.1,704.5 961.4,704.3 961.7,704.4 962.0,705.4 962.2,704.7 962.5,704.8 962.8,704.5 963.1,704.0 963.4,705.0 963.7,704.2 964.0,704.3 964.3,704.2 964.5,705.1 964.8,705.1 965.1,704.9 965.4,705.3 965.7,705.1 966.0,705.1 966.3,704.5 966.6,705.0 966.8,704.3 967.1,705.0 967.4,703.7 967.7,704.7 968.0,704.7 968.3,705.4 968.6,704.2 968.8,704.1 969.1,704.9 969.4,704.3 969.7,703.8 970.0,705.2 970.3,704.3 970.6,704.8 970.9,704.8 971.1,705.3 971.4,704.8 971.7,704.7 972.0,704.3 972.3,705.0 972.6,704.9 972.9,703.6 973.2,704.6 973.4,704.4 973.7,704.6 974.0,705.4 974.3,704.7 974.6,704.7 974.9,705.6 975.2,703.7 975.5,705.0 975.7,705.1 976.0,704.6 976.3,704.4 976.6,704.4 976.9,704.7 977.2,704.0 977.5,704.5 977.7,704.7 978.0,704.5 978.3,705.0 978.6,704.9 978.9,704.6 979.2,705.1 979.5,705.2 979.8,704.8 980.0,704.9 980.3,704.9 980.6,705.2 980.9,704.0 981.2,704.9 981.5,704.4 981.8,704.6 982.1,705.4 982.3,704.8 982.6,704.6 982.9,704.3 983.2,705.7 983.5,705.5 983.8,704.4 984.1,705.4 984.3,705.4 984.6,704.6 984.9,705.0 985.2,704.3 985.5,706.0 985.8,704.4 986.1,704.5 986.4,705.2 986.6,705.3 986.9,704.4 987.2,705.5 987.5,703.7 987.8,704.5 988.1,705.6 988.4,705.0 988.7,704.8 988.9,704.5 989.2,705.3 989.5,704.8 989.8,705.1 990.1,705.2 990.4,705.2 990.7,704.7 991.0,705.0 991.2,704.8 991.5,704.8 991.8,705.0 992.1,704.1 992.4,704.5 992.7,704.7 993.0,705.6 993.2,704.4 993.5,704.9 993.8,705.0 994.1,705.5 994.4,705.2 994.7,704.2 995.0,704.7 995.3,705.1 995.5,705.0 995.8,705.3 996.1,704.8 996.4,705.4 996.7,705.4 997.0,704.4 997.3,705.2 997.6,704.6 997.8,705.6 998.1,705.3 998.4,704.8 998.7,705.1 999.0,705.1 999.3,705.1 999.6,706.2 999.8,704.9 1000.1,705.1 1000.4,706.1 1000.7,704.8 1001.0,704.7 1001.3,704.2 1001.6,705.2 1001.9,704.8 1002.1,706.2 1002.4,704.0 1002.7,705.3 1003.0,705.1 1003.3,705.3" fill="none" stroke="#bf7fe0" stroke-width="0.9" stroke-linejoin="round"/>
<polyline points="1003.9,702.0 1004.2,702.3 1004.5,701.3 1004.8,702.2 1005.1,701.1 1005.3,701.8 1005.6,701.2 1005.9,701.6 1006.2,701.8 1006.5,701.8 1006.8,701.2 1007.1,701.1 1007.3,700.8 1007.6,702.2 1007.9,701.7 1008.2,701.5 1008.5,700.8 1008.8,701.6 1009.1,702.5 1009.4,701.7 1009.6,702.7 1009.9,700.9 1010.2,701.5 1010.5,701.2 1010.8,702.9 1011.1,701.7 1011.4,702.1 1011.7,701.6 1011.9,701.0 1012.2,702.1 1012.5,700.8 1012.8,701.6 1013.1,701.1 1013.4,701.8 1013.7,701.5 1014.0,700.9 1014.2,702.9 1014.5,701.1 1014.8,701.2 1015.1,701.1 1015.4,701.2 1015.7,701.8 1016.0,701.7 1016.2,702.2 1016.5,701.3 1016.8,701.2 1017.1,702.1 1017.4,702.1 1017.7,701.8 1018.0,701.7 1018.3,701.5 1018.5,700.9 1018.8,702.0 1019.1,701.6 1019.4,701.6 1019.7,701.2 1020.0,702.3 1020.3,701.3 1020.6,701.8 1020.8,702.5 1021.1,700.9 1021.4,702.0 1021.7,702.0 1022.0,701.8 1022.3,701.4 1022.6,701.6 1022.8,700.8 1023.1,701.2 1023.4,702.0 1023.7,701.6 1024.0,702.6 1024.3,702.1 1024.6,701.6 1024.9,701.4 1025.1,701.3 1025.4,702.0 1025.7,701.7 1026.0,701.7 1026.3,701.3 1026.6,701.3 1026.9,701.7 1027.2,701.0 1027.4,702.1 1027.7,701.5 1028.0,701.8 1028.3,701.8 1028.6,700.1 1028.9,701.7 1029.2,700.9 1029.5,701.6 1029.7,701.9 1030.0,700.9 1030.3,702.2 1030.6,701.8 1030.9,701.6 1031.2,702.2 1031.5,700.7 1031.7,701.8 1032.0,701.3 1032.3,702.0 1032.6,701.5 1032.9,701.6 1033.2,700.9 1033.5,701.8 1033.8,702.0 1034.0,701.1 1034.3,701.7 1034.6,702.2 1034.9,701.6 1035.2,701.5 1035.5,701.0 1035.8,701.1 1036.1,701.1 1036.3,700.8 1036.6,702.0 1036.9,701.3 1037.2,701.7 1037.5,702.0 1037.8,701.5 1038.1,702.3 1038.3,701.7 1038.6,702.3 1038.9,701.4 1039.2,701.4 1039.5,702.5 1039.8,701.4 1040.1,701.7 1040.4,701.1 1040.6,701.0 1040.9,701.9 1041.2,701.7 1041.5,701.9 1041.8,700.9 1042.1,701.0 1042.4,700.7 1042.7,701.7 1042.9,701.1 1043.2,701.4 1043.5,701.1 1043.8,701.7 1044.1,701.9 1044.4,700.7 1044.7,702.1 1045.0,701.2 1045.2,700.3 1045.5,702.1 1045.8,701.6 1046.1,701.3 1046.4,702.4 1046.7,701.3 1047.0,702.2 1047.2,702.4 1047.5,701.5 1047.8,702.0 1048.1,701.1 1048.4,701.1 1048.7,701.1 1049.0,702.0 1049.3,701.9 1049.5,701.4 1049.8,702.6 1050.1,701.3 1050.4,701.2 1050.7,700.9 1051.0,701.6 1051.3,702.1 1051.6,700.9 1051.8,702.1 1052.1,701.2 1052.4,701.6 1052.7,702.6 1053.0,701.6 1053.3,701.4 1053.6,701.2 1053.8,701.2 1054.1,702.4 1054.4,701.3 1054.7,701.9 1055.0,701.8 1055.3,701.1 1055.6,702.2 1055.9,700.9 1056.1,701.3 1056.4,702.4 1056.7,701.9 1057.0,702.0 1057.3,701.9 1057.6,701.4 1057.9,701.0 1058.2,700.7 1058.4,701.6 1058.7,701.1 1059.0,701.8 1059.3,701.6 1059.6,701.6 1059.9,701.0 1060.2,702.3 1060.5,701.8 1060.7,702.2 1061.0,701.3 1061.3,701.4 1061.6,701.2 1061.9,702.6 1062.2,701.9 1062.5,701.8 1062.7,701.4 1063.0,702.1 1063.3,701.2 1063.6,701.2 1063.9,701.5 1064.2,702.9 1064.5,702.3 1064.8,701.0 1065.0,701.6 1065.3,702.2 1065.6,702.3 1065.9,701.8 1066.2,701.4 1066.5,702.5 1066.8,701.7 1067.1,701.1 1067.3,701.0 1067.6,701.8 1067.9,702.3 1068.2,701.4 1068.5,702.2 1068.8,700.9 1069.1,701.3 1069.3,702.6 1069.6,701.7 1069.9,701.8 1070.2,702.6 1070.5,700.8 1070.8,701.7 1071.1,701.7 1071.4,701.3 1071.6,701.7 1071.9,702.0 1072.2,701.3 1072.5,701.9 1072.8,701.0 1073.1,702.2 1073.4,702.0 1073.7,700.8 1073.9,701.6 1074.2,701.8 1074.5,700.7 1074.8,701.6 1075.1,702.3 1075.4,701.9" fill="none" stroke="#bf7fe0" stroke-width="0.9" stroke-linejoin="round"/>
<path d="M1004.2 445 V732" stroke="#e03090" stroke-width="1" stroke-dasharray="4.2 3.2" fill="none"/>
<path d="M734.6 430.2 V732.0 H1108.4" stroke="#000" stroke-width="1.45" fill="none"/>
<path d="M734.6 732.0 h4" stroke="#000" stroke-width="1.2"/>
<text x="731.3" y="736.2" text-anchor="end" font-size="12.6" font-family="Liberation Serif, serif" fill="#111">0.0</text>
<path d="M734.6 656.7 h4" stroke="#000" stroke-width="1.2"/>
<text x="731.3" y="660.9" text-anchor="end" font-size="12.6" font-family="Liberation Serif, serif" fill="#111">0.1</text>
<path d="M734.6 581.4 h4" stroke="#000" stroke-width="1.2"/>
<text x="731.3" y="585.6" text-anchor="end" font-size="12.6" font-family="Liberation Serif, serif" fill="#111">0.2</text>
<path d="M734.6 506.1 h4" stroke="#000" stroke-width="1.2"/>
<text x="731.3" y="510.3" text-anchor="end" font-size="12.6" font-family="Liberation Serif, serif" fill="#111">0.3</text>
<path d="M734.6 430.8 h4" stroke="#000" stroke-width="1.2"/>
<text x="731.3" y="435.0" text-anchor="end" font-size="12.6" font-family="Liberation Serif, serif" fill="#111">0.4</text>
<path d="M747.9 732.0 v-4" stroke="#000" stroke-width="1.2"/>
<path d="M792.8 732.0 v-2.5" stroke="#000" stroke-width="0.9"/>
<text x="747.9" y="745.2" text-anchor="middle" font-size="12.3" font-family="Liberation Serif, serif" fill="#111">1500</text>
<path d="M837.6 732.0 v-4" stroke="#000" stroke-width="1.2"/>
<path d="M882.5 732.0 v-2.5" stroke="#000" stroke-width="0.9"/>
<text x="837.6" y="745.2" text-anchor="middle" font-size="12.3" font-family="Liberation Serif, serif" fill="#111">2000</text>
<path d="M927.3 732.0 v-4" stroke="#000" stroke-width="1.2"/>
<path d="M972.1 732.0 v-2.5" stroke="#000" stroke-width="0.9"/>
<text x="927.3" y="745.2" text-anchor="middle" font-size="12.3" font-family="Liberation Serif, serif" fill="#111">2500</text>
<path d="M1017.0 732.0 v-4" stroke="#000" stroke-width="1.2"/>
<path d="M1061.8 732.0 v-2.5" stroke="#000" stroke-width="0.9"/>
<text x="1017.0" y="745.2" text-anchor="middle" font-size="12.3" font-family="Liberation Serif, serif" fill="#111">3000</text>
<path d="M1106.7 732.0 v-4" stroke="#000" stroke-width="1.2"/>
<text x="1106.7" y="745.2" text-anchor="middle" font-size="12.3" font-family="Liberation Serif, serif" fill="#111">3500</text>
<text x="920" y="766.2" text-anchor="middle" font-size="14" font-family="Liberation Serif, serif" fill="#111">Time (s)</text>
<text transform="translate(704.6 581.5) rotate(-90)" text-anchor="middle" font-size="14.2" font-family="Liberation Serif, serif" fill="#111">Binding (nm)</text>
<text x="756.9" y="480.6" font-size="11.6" font-family="Liberation Serif, serif" fill="#222">Association</text>
<text x="1017.5" y="475.6" font-size="11.9" font-family="Liberation Serif, serif" fill="#222">Dissociation</text>
<clipPath id="lgc"><rect x="1008" y="401.6" width="163" height="60"/></clipPath>
<g clip-path="url(#lgc)">
<rect x="1012.2" y="396" width="132.8" height="59.4" fill="#fff" stroke="#bdbdbd" stroke-width="0.8"/>
<path d="M1145 398 V455.4 H1012.2" stroke="#8a8a8a" stroke-width="1" fill="none"/>
<path d="M1014 405.8 H1040" stroke="#e4e4e4" stroke-width="0.8"/>
<text x="1042" y="409.4" font-size="11.35" font-family="Liberation Serif, serif" fill="#222">SGP+ACE2</text>
<path d="M1014 419.9 H1040" stroke="#e4e4e4" stroke-width="0.8"/>
<text x="1042" y="423.5" font-size="11.35" font-family="Liberation Serif, serif" fill="#222">SGP+ACE2+AGSP</text>
<path d="M1014 434.1 H1040" stroke="#e4e4e4" stroke-width="0.8"/>
<text x="1042" y="437.7" font-size="11.35" font-family="Liberation Serif, serif" fill="#222">SGP+ACE2+S-AGSP</text>
<path d="M1014 448.2 H1040" stroke="#e4e4e4" stroke-width="0.8"/>
<text x="1042" y="451.8" font-size="11.35" font-family="Liberation Serif, serif" fill="#222">SGP+PBS</text>
</g>
</svg>
</body></html>
